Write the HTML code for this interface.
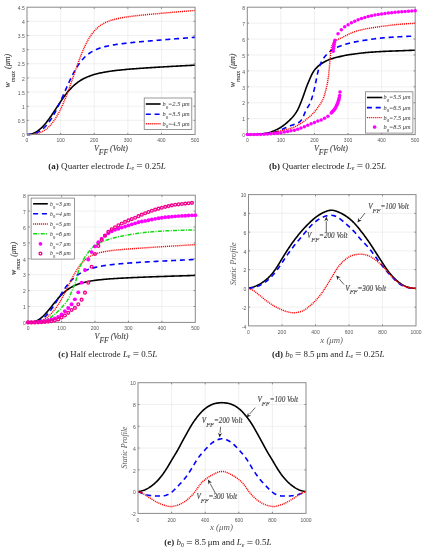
<!DOCTYPE html>
<html><head><meta charset="utf-8"><title>Figure</title>
<style>html,body{margin:0;padding:0;background:#fff}body{width:426px;height:550px;overflow:hidden}svg{display:block}</style>
</head><body>
<svg width="426" height="550" viewBox="0 0 426 550">
<style>
.tl text{font-family:"Liberation Sans",sans-serif;font-size:5px;fill:#555}
.lab{font-family:"Liberation Serif",serif;font-style:italic;fill:#3c3c3c;stroke:#3c3c3c;stroke-width:0.1}
.cap{font-family:"Liberation Serif",serif;fill:#1e1e1e}
.k{fill:none;stroke:#000;stroke-width:1.6}
.b{fill:none;stroke:#0000ff;stroke-width:1.6;stroke-dasharray:5 3.8}
.r{fill:none;stroke:#ff0000;stroke-width:1.45;stroke-dasharray:1.1 0.85}
.g{fill:none;stroke:#10dc10;stroke-width:1.5;stroke-dasharray:4 1.3 1 1.3}
.mf circle{fill:#ff00ff}
.mo circle{fill:none;stroke:#f2008e;stroke-width:1.35}
.leg{fill:#fff;stroke:#777;stroke-width:0.75}
.lg{fill:#4a4a4a;stroke:#4a4a4a;stroke-width:0.05}
.ann{fill:#4a4a4a;stroke:#4a4a4a;stroke-width:0.15}
.sp{fill:#5c5c5c;stroke:none}
</style>
<path d="M60.62 7.2V134.5M94.24 7.2V134.5M127.86 7.2V134.5M161.48 7.2V134.5M27 120.36H195.1M27 106.21H195.1M27 92.07H195.1M27 77.92H195.1M27 63.78H195.1M27 49.63H195.1M27 35.49H195.1M27 21.34H195.1" stroke="#eaeaea" stroke-width="0.7" fill="none"/>
<path d="M60.62 134.5v-1.6M60.62 7.2v1.6M94.24 134.5v-1.6M94.24 7.2v1.6M127.86 134.5v-1.6M127.86 7.2v1.6M161.48 134.5v-1.6M161.48 7.2v1.6M27 120.36h1.6M195.1 120.36h-1.6M27 106.21h1.6M195.1 106.21h-1.6M27 92.07h1.6M195.1 92.07h-1.6M27 77.92h1.6M195.1 77.92h-1.6M27 63.78h1.6M195.1 63.78h-1.6M27 49.63h1.6M195.1 49.63h-1.6M27 35.49h1.6M195.1 35.49h-1.6M27 21.34h1.6M195.1 21.34h-1.6" stroke="#555" stroke-width="0.7" fill="none"/>
<clipPath id="ca"><rect x="27" y="5.2" width="168.1" height="131.3"/></clipPath>
<g clip-path="url(#ca)">
<path d="M27.00 134.50L28.00 134.47L29.00 134.39L29.98 134.24L30.96 134.04L31.93 133.77L32.88 133.46L33.81 133.09L34.71 132.67L35.60 132.21L36.47 131.71L37.31 131.17L38.13 130.60L38.93 130.00L39.71 129.37L40.47 128.72L41.21 128.05L41.94 127.36L42.64 126.66L43.33 125.93L44.01 125.20L44.68 124.45L45.33 123.69L45.96 122.92L46.59 122.14L47.21 121.36L47.82 120.56L48.42 119.76L49.01 118.96L49.60 118.15L50.18 117.33L50.75 116.51L51.32 115.69L51.88 114.86L52.44 114.03L52.99 113.20L53.54 112.37L54.09 111.53L54.64 110.69L55.19 109.86L55.73 109.02L56.28 108.18L56.82 107.34L57.37 106.50L57.91 105.66L58.46 104.83L59.01 103.99L59.56 103.16L60.12 102.33L60.67 101.50L61.23 100.67L61.80 99.84L62.37 99.02L62.95 98.20L63.53 97.39L64.12 96.58L64.71 95.78L65.31 94.98L65.92 94.19L66.54 93.40L67.17 92.62L67.80 91.85L68.45 91.09L69.10 90.33L69.77 89.59L70.45 88.85L71.14 88.13L71.84 87.41L72.56 86.71L73.28 86.03L74.02 85.35L74.77 84.69L75.54 84.05L76.32 83.42L77.11 82.81L77.91 82.22L78.73 81.64L79.55 81.08L80.40 80.54L81.25 80.01L82.11 79.51L82.99 79.02L83.87 78.56L84.76 78.11L85.67 77.68L86.58 77.26L87.49 76.87L88.42 76.49L89.35 76.13L90.29 75.78L91.23 75.45L92.18 75.14L93.14 74.83L94.09 74.55L95.06 74.27L96.02 74.01L96.99 73.76L97.96 73.52L98.93 73.29L99.91 73.07L100.89 72.86L101.87 72.66L102.85 72.47L103.83 72.28L104.81 72.10L105.80 71.93L106.79 71.77L107.77 71.61L108.76 71.46L109.75 71.31L110.74 71.17L111.73 71.04L112.72 70.90L113.72 70.78L114.71 70.65L115.70 70.53L116.69 70.42L117.69 70.30L118.68 70.19L119.68 70.09L120.67 69.98L121.66 69.88L122.66 69.78L123.66 69.69L124.65 69.59L125.65 69.50L126.64 69.41L127.64 69.32L128.64 69.24L129.63 69.15L130.63 69.07L131.62 68.99L132.62 68.91L133.62 68.83L134.62 68.75L135.61 68.68L136.61 68.60L137.61 68.53L138.60 68.46L139.60 68.39L140.60 68.31L141.60 68.24L142.59 68.18L143.59 68.11L144.59 68.04L145.59 67.97L146.59 67.91L147.58 67.84L148.58 67.78L149.58 67.71L150.58 67.65L151.58 67.59L152.57 67.53L153.57 67.46L154.57 67.40L155.57 67.34L156.57 67.28L157.56 67.22L158.56 67.16L159.56 67.10L160.56 67.04L161.56 66.98L162.56 66.93L163.55 66.87L164.55 66.81L165.55 66.75L166.55 66.70L167.55 66.64L168.55 66.58L169.54 66.53L170.54 66.47L171.54 66.41L172.54 66.36L173.54 66.30L174.54 66.25L175.53 66.19L176.53 66.14L177.53 66.08L178.53 66.03L179.53 65.97L180.53 65.92L181.53 65.87L182.52 65.81L183.52 65.76L184.52 65.71L185.52 65.65L186.52 65.60L187.52 65.55L188.52 65.49L189.51 65.44L190.51 65.39L191.51 65.33L192.51 65.28L193.51 65.23L194.51 65.18L195.10 65.15" class="k"/>
<path d="M27.00 134.50L28.00 134.49L29.00 134.46L30.00 134.40L30.99 134.30L31.98 134.15L32.96 133.96L33.94 133.73L34.89 133.45L35.84 133.12L36.77 132.74L37.67 132.32L38.56 131.86L39.42 131.36L40.27 130.82L41.09 130.25L41.88 129.64L42.66 129.01L43.41 128.35L44.14 127.67L44.85 126.97L45.55 126.25L46.22 125.51L46.87 124.75L47.51 123.98L48.14 123.20L48.74 122.40L49.34 121.60L49.92 120.78L50.48 119.96L51.04 119.13L51.58 118.29L52.11 117.44L52.63 116.59L53.15 115.73L53.65 114.87L54.15 114.00L54.63 113.12L55.11 112.25L55.59 111.37L56.05 110.48L56.51 109.59L56.97 108.70L57.41 107.81L57.86 106.91L58.30 106.01L58.73 105.11L59.16 104.21L59.59 103.31L60.01 102.40L60.43 101.49L60.85 100.58L61.26 99.67L61.67 98.76L62.08 97.85L62.49 96.94L62.90 96.02L63.30 95.11L63.71 94.19L64.11 93.28L64.52 92.36L64.92 91.45L65.32 90.53L65.72 89.62L66.13 88.70L66.53 87.79L66.94 86.88L67.35 85.96L67.76 85.05L68.17 84.14L68.58 83.23L69.00 82.32L69.42 81.41L69.84 80.50L70.26 79.60L70.69 78.70L71.13 77.80L71.57 76.90L72.01 76.00L72.46 75.11L72.92 74.22L73.38 73.33L73.85 72.45L74.32 71.57L74.81 70.69L75.30 69.82L75.80 68.96L76.31 68.10L76.83 67.25L77.37 66.40L77.91 65.56L78.47 64.73L79.03 63.91L79.62 63.09L80.21 62.29L80.82 61.50L81.45 60.72L82.09 59.95L82.75 59.20L83.42 58.46L84.12 57.74L84.82 57.03L85.55 56.35L86.30 55.68L87.06 55.03L87.84 54.41L88.64 53.81L89.45 53.22L90.28 52.67L91.13 52.13L91.99 51.62L92.86 51.13L93.74 50.67L94.64 50.22L95.55 49.80L96.46 49.40L97.39 49.03L98.32 48.67L99.26 48.33L100.21 48.00L101.16 47.70L102.12 47.41L103.08 47.14L104.05 46.87L105.02 46.63L105.99 46.39L106.96 46.17L107.94 45.95L108.92 45.75L109.90 45.55L110.88 45.37L111.86 45.19L112.85 45.02L113.84 44.85L114.82 44.69L115.81 44.54L116.80 44.39L117.79 44.25L118.78 44.11L119.77 43.97L120.76 43.84L121.75 43.71L122.75 43.59L123.74 43.47L124.73 43.35L125.73 43.24L126.72 43.12L127.71 43.01L128.71 42.91L129.70 42.80L130.70 42.69L131.69 42.59L132.69 42.49L133.68 42.39L134.68 42.29L135.67 42.19L136.67 42.10L137.66 42.00L138.66 41.91L139.65 41.82L140.65 41.73L141.64 41.64L142.64 41.55L143.64 41.46L144.63 41.37L145.63 41.28L146.63 41.19L147.62 41.11L148.62 41.02L149.61 40.93L150.61 40.85L151.61 40.76L152.60 40.68L153.60 40.60L154.60 40.51L155.59 40.43L156.59 40.35L157.59 40.26L158.58 40.18L159.58 40.10L160.58 40.02L161.57 39.94L162.57 39.86L163.57 39.77L164.56 39.69L165.56 39.61L166.56 39.53L167.55 39.45L168.55 39.37L169.55 39.29L170.54 39.21L171.54 39.13L172.54 39.05L173.53 38.98L174.53 38.90L175.53 38.82L176.52 38.74L177.52 38.66L178.52 38.58L179.52 38.50L180.51 38.42L181.51 38.35L182.51 38.27L183.50 38.19L184.50 38.11L185.50 38.03L186.49 37.96L187.49 37.88L188.49 37.80L189.48 37.72L190.48 37.64L191.48 37.57L192.48 37.49L193.47 37.41L194.47 37.33L195.10 37.29" class="b"/>
<path d="M27.00 134.50L28.00 134.50L29.00 134.49L30.00 134.47L31.00 134.43L32.00 134.37L32.99 134.29L33.99 134.17L34.98 134.03L35.96 133.85L36.94 133.63L37.90 133.38L38.86 133.08L39.80 132.75L40.73 132.37L41.64 131.96L42.53 131.51L43.40 131.02L44.25 130.49L45.08 129.93L45.89 129.34L46.68 128.73L47.44 128.08L48.18 127.41L48.91 126.72L49.61 126.01L50.29 125.28L50.96 124.53L51.60 123.77L52.23 122.99L52.85 122.20L53.44 121.40L54.02 120.59L54.59 119.76L55.15 118.93L55.69 118.09L56.22 117.24L56.74 116.39L57.24 115.52L57.74 114.66L58.22 113.78L58.70 112.90L59.17 112.02L59.63 111.13L60.08 110.24L60.52 109.34L60.96 108.44L61.39 107.54L61.81 106.63L62.22 105.72L62.63 104.81L63.04 103.90L63.44 102.98L63.83 102.06L64.22 101.14L64.60 100.21L64.98 99.29L65.36 98.36L65.73 97.43L66.09 96.50L66.46 95.57L66.82 94.64L67.18 93.71L67.53 92.77L67.88 91.83L68.23 90.90L68.58 89.96L68.92 89.02L69.26 88.08L69.60 87.14L69.94 86.20L70.27 85.26L70.61 84.31L70.94 83.37L71.27 82.43L71.61 81.48L71.94 80.54L72.26 79.60L72.59 78.65L72.92 77.71L73.25 76.76L73.58 75.82L73.90 74.87L74.23 73.93L74.56 72.98L74.89 72.04L75.21 71.09L75.54 70.15L75.87 69.20L76.20 68.26L76.54 67.32L76.87 66.37L77.20 65.43L77.54 64.49L77.88 63.55L78.22 62.61L78.56 61.67L78.91 60.73L79.26 59.79L79.61 58.86L79.96 57.92L80.32 56.99L80.68 56.06L81.05 55.13L81.42 54.20L81.79 53.27L82.17 52.34L82.56 51.42L82.95 50.50L83.34 49.58L83.74 48.67L84.15 47.75L84.57 46.84L84.99 45.94L85.42 45.03L85.86 44.14L86.31 43.24L86.77 42.35L87.23 41.47L87.71 40.59L88.20 39.72L88.71 38.86L89.22 38.00L89.75 37.15L90.29 36.31L90.85 35.48L91.42 34.66L92.01 33.85L92.61 33.05L93.23 32.27L93.88 31.50L94.53 30.75L95.21 30.02L95.91 29.30L96.63 28.60L97.36 27.93L98.12 27.27L98.89 26.64L99.69 26.03L100.50 25.44L101.33 24.88L102.17 24.35L103.03 23.84L103.90 23.35L104.79 22.89L105.69 22.45L106.60 22.04L107.52 21.64L108.45 21.27L109.38 20.92L110.33 20.59L111.28 20.28L112.23 19.98L113.19 19.70L114.16 19.44L115.12 19.18L116.10 18.95L117.07 18.72L118.05 18.50L119.02 18.30L120.00 18.10L120.99 17.91L121.97 17.73L122.96 17.56L123.94 17.39L124.93 17.24L125.92 17.08L126.91 16.93L127.90 16.79L128.89 16.65L129.88 16.52L130.87 16.38L131.86 16.26L132.85 16.13L133.84 16.01L134.84 15.89L135.83 15.78L136.82 15.66L137.82 15.55L138.81 15.44L139.81 15.34L140.80 15.23L141.80 15.13L142.79 15.02L143.79 14.92L144.78 14.82L145.78 14.72L146.77 14.63L147.77 14.53L148.76 14.43L149.76 14.34L150.75 14.24L151.75 14.15L152.74 14.06L153.74 13.97L154.74 13.88L155.73 13.79L156.73 13.70L157.72 13.61L158.72 13.52L159.72 13.43L160.71 13.34L161.71 13.25L162.70 13.16L163.70 13.08L164.70 12.99L165.69 12.90L166.69 12.82L167.68 12.73L168.68 12.65L169.68 12.56L170.67 12.48L171.67 12.39L172.67 12.31L173.66 12.22L174.66 12.14L175.66 12.05L176.65 11.97L177.65 11.88L178.65 11.80L179.64 11.72L180.64 11.63L181.63 11.55L182.63 11.47L183.63 11.38L184.62 11.30L185.62 11.22L186.62 11.13L187.61 11.05L188.61 10.97L189.61 10.89L190.60 10.80L191.60 10.72L192.60 10.64L193.59 10.55L194.59 10.47L195.10 10.43" class="r"/>
</g>
<rect x="27" y="7.2" width="168.1" height="127.3" fill="none" stroke="#8a8a8a" stroke-width="1"/>
<g class="tl"><text x="27" y="142.1" text-anchor="middle">0</text><text x="60.62" y="142.1" text-anchor="middle">100</text><text x="94.24" y="142.1" text-anchor="middle">200</text><text x="127.86" y="142.1" text-anchor="middle">300</text><text x="161.48" y="142.1" text-anchor="middle">400</text><text x="195.1" y="142.1" text-anchor="middle">500</text><text x="24.8" y="137.2" text-anchor="end">0</text><text x="24.8" y="123.06" text-anchor="end">0.5</text><text x="24.8" y="108.91" text-anchor="end">1</text><text x="24.8" y="94.77" text-anchor="end">1.5</text><text x="24.8" y="80.62" text-anchor="end">2</text><text x="24.8" y="66.48" text-anchor="end">2.5</text><text x="24.8" y="52.33" text-anchor="end">3</text><text x="24.8" y="38.19" text-anchor="end">3.5</text><text x="24.8" y="24.04" text-anchor="end">4</text><text x="24.8" y="9.9" text-anchor="end">4.5</text></g>
<path d="M280.88 7.2V134.6M314.46 7.2V134.6M348.04 7.2V134.6M381.62 7.2V134.6M247.3 118.67H415.2M247.3 102.75H415.2M247.3 86.82H415.2M247.3 70.9H415.2M247.3 54.97H415.2M247.3 39.05H415.2M247.3 23.12H415.2" stroke="#eaeaea" stroke-width="0.7" fill="none"/>
<path d="M280.88 134.6v-1.6M280.88 7.2v1.6M314.46 134.6v-1.6M314.46 7.2v1.6M348.04 134.6v-1.6M348.04 7.2v1.6M381.62 134.6v-1.6M381.62 7.2v1.6M247.3 118.67h1.6M415.2 118.67h-1.6M247.3 102.75h1.6M415.2 102.75h-1.6M247.3 86.82h1.6M415.2 86.82h-1.6M247.3 70.9h1.6M415.2 70.9h-1.6M247.3 54.97h1.6M415.2 54.97h-1.6M247.3 39.05h1.6M415.2 39.05h-1.6M247.3 23.12h1.6M415.2 23.12h-1.6" stroke="#555" stroke-width="0.7" fill="none"/>
<clipPath id="cb"><rect x="247.3" y="5.2" width="167.9" height="131.4"/></clipPath>
<g clip-path="url(#cb)">
<path d="M247.30 134.60L248.30 134.59L249.30 134.57L250.30 134.55L251.30 134.52L252.30 134.49L253.30 134.46L254.30 134.42L255.30 134.37L256.29 134.32L257.29 134.27L258.29 134.20L259.29 134.12L260.28 134.03L261.28 133.93L262.27 133.82L263.26 133.69L264.25 133.55L265.24 133.39L266.22 133.21L267.20 133.02L268.17 132.79L269.14 132.54L270.09 132.26L271.04 131.95L271.98 131.61L272.91 131.25L273.84 130.87L274.76 130.48L275.67 130.06L276.57 129.64L277.46 129.19L278.35 128.73L279.22 128.25L280.08 127.74L280.93 127.21L281.76 126.65L282.57 126.08L283.38 125.49L284.18 124.89L284.97 124.28L285.75 123.65L286.52 123.01L287.28 122.36L288.02 121.70L288.76 121.02L289.49 120.34L290.20 119.64L290.90 118.92L291.59 118.20L292.26 117.46L292.92 116.71L293.56 115.94L294.18 115.16L294.79 114.37L295.37 113.56L295.93 112.73L296.46 111.89L296.97 111.03L297.46 110.16L297.92 109.28L298.37 108.38L298.79 107.47L299.20 106.56L299.59 105.64L299.98 104.72L300.36 103.80L300.74 102.87L301.11 101.94L301.47 101.01L301.83 100.08L302.18 99.14L302.53 98.21L302.87 97.27L303.21 96.33L303.55 95.38L303.88 94.44L304.21 93.50L304.54 92.55L304.87 91.61L305.19 90.66L305.51 89.72L305.84 88.77L306.18 87.83L306.53 86.89L306.89 85.96L307.25 85.03L307.63 84.10L308.01 83.18L308.40 82.26L308.79 81.34L309.18 80.41L309.57 79.50L309.97 78.58L310.37 77.66L310.78 76.75L311.19 75.84L311.61 74.93L312.05 74.04L312.52 73.16L313.01 72.29L313.54 71.45L314.12 70.64L314.72 69.85L315.36 69.08L316.02 68.34L316.71 67.61L317.41 66.90L318.14 66.22L318.89 65.57L319.67 64.94L320.46 64.35L321.28 63.78L322.12 63.23L322.97 62.71L323.83 62.21L324.70 61.72L325.59 61.25L326.48 60.80L327.38 60.38L328.30 59.98L329.23 59.61L330.16 59.27L331.11 58.95L332.06 58.65L333.02 58.37L333.98 58.10L334.95 57.84L335.91 57.58L336.88 57.34L337.85 57.09L338.82 56.85L339.79 56.61L340.77 56.37L341.74 56.14L342.71 55.91L343.69 55.70L344.67 55.50L345.65 55.31L346.63 55.13L347.62 54.96L348.60 54.80L349.59 54.65L350.58 54.51L351.57 54.36L352.56 54.22L353.55 54.09L354.54 53.95L355.53 53.81L356.52 53.68L357.52 53.55L358.51 53.42L359.50 53.30L360.49 53.18L361.49 53.07L362.48 52.96L363.48 52.86L364.47 52.76L365.47 52.66L366.46 52.57L367.46 52.49L368.45 52.40L369.45 52.32L370.45 52.24L371.45 52.17L372.44 52.09L373.44 52.02L374.44 51.95L375.44 51.88L376.43 51.81L377.43 51.75L378.43 51.69L379.43 51.63L380.43 51.58L381.42 51.52L382.42 51.47L383.42 51.42L384.42 51.37L385.42 51.33L386.42 51.29L387.42 51.24L388.42 51.20L389.42 51.17L390.42 51.13L391.41 51.09L392.41 51.05L393.41 51.02L394.41 50.98L395.41 50.95L396.41 50.91L397.41 50.87L398.41 50.83L399.41 50.80L400.41 50.76L401.41 50.72L402.41 50.68L403.41 50.64L404.41 50.60L405.41 50.57L406.40 50.53L407.40 50.49L408.40 50.45L409.40 50.41L410.40 50.38L411.39 50.34L412.37 50.30L413.33 50.27L414.27 50.23L415.20 50.20L415.20 50.20" class="k"/>
<path d="M247.30 134.60L248.30 134.59L249.30 134.58L250.30 134.56L251.30 134.53L252.30 134.50L253.30 134.46L254.30 134.42L255.30 134.38L256.29 134.32L257.29 134.27L258.29 134.21L259.29 134.14L260.29 134.08L261.28 134.01L262.28 133.94L263.28 133.86L264.27 133.77L265.27 133.68L266.26 133.57L267.26 133.46L268.25 133.32L269.24 133.17L270.22 133.01L271.21 132.83L272.19 132.64L273.17 132.44L274.14 132.22L275.11 131.99L276.08 131.74L277.05 131.48L278.00 131.18L278.94 130.85L279.86 130.48L280.77 130.08L281.68 129.65L282.57 129.21L283.47 128.77L284.38 128.34L285.28 127.92L286.19 127.51L287.11 127.10L288.02 126.71L288.95 126.33L289.88 125.96L290.82 125.62L291.76 125.28L292.70 124.95L293.65 124.62L294.59 124.28L295.52 123.93L296.45 123.57L297.37 123.17L298.26 122.74L299.10 122.24L299.88 121.65L300.57 120.97L301.19 120.21L301.74 119.39L302.24 118.53L302.71 117.65L303.15 116.75L303.57 115.85L303.96 114.93L304.35 114.01L304.73 113.08L305.12 112.17L305.54 111.26L305.98 110.36L306.46 109.48L306.95 108.62L307.46 107.76L307.98 106.90L308.49 106.04L308.99 105.18L309.47 104.30L309.92 103.41L310.33 102.51L310.71 101.58L311.06 100.65L311.39 99.70L311.70 98.76L312.00 97.80L312.29 96.84L312.58 95.89L312.85 94.92L313.11 93.96L313.37 92.99L313.62 92.03L313.86 91.05L314.10 90.08L314.33 89.11L314.55 88.13L314.76 87.16L314.97 86.18L315.17 85.20L315.37 84.22L315.56 83.24L315.76 82.26L315.95 81.28L316.15 80.30L316.34 79.32L316.54 78.33L316.73 77.35L316.94 76.38L317.14 75.40L317.35 74.42L317.57 73.44L317.79 72.47L318.02 71.49L318.26 70.52L318.51 69.56L318.79 68.60L319.09 67.64L319.41 66.70L319.75 65.76L320.11 64.83L320.50 63.91L320.91 62.99L321.34 62.10L321.81 61.21L322.30 60.34L322.82 59.49L323.36 58.65L323.93 57.83L324.52 57.03L325.14 56.24L325.78 55.48L326.44 54.73L327.12 54.00L327.82 53.29L328.55 52.60L329.29 51.94L330.06 51.30L330.85 50.69L331.66 50.11L332.49 49.56L333.35 49.04L334.22 48.56L335.11 48.12L336.02 47.71L336.94 47.32L337.87 46.95L338.81 46.60L339.74 46.25L340.68 45.90L341.62 45.55L342.56 45.21L343.50 44.87L344.45 44.55L345.40 44.24L346.35 43.94L347.31 43.67L348.28 43.40L349.24 43.16L350.22 42.93L351.19 42.71L352.17 42.50L353.15 42.29L354.13 42.10L355.11 41.91L356.09 41.72L357.08 41.55L358.06 41.37L359.05 41.21L360.04 41.04L361.02 40.88L362.01 40.72L363.00 40.56L363.98 40.41L364.97 40.25L365.96 40.10L366.95 39.94L367.94 39.79L368.93 39.64L369.91 39.49L370.90 39.34L371.89 39.20L372.88 39.06L373.87 38.92L374.86 38.79L375.86 38.66L376.85 38.53L377.84 38.41L378.83 38.30L379.83 38.19L380.82 38.09L381.82 37.99L382.81 37.90L383.81 37.81L384.81 37.72L385.80 37.64L386.80 37.57L387.80 37.49L388.79 37.42L389.79 37.35L390.79 37.28L391.79 37.22L392.79 37.15L393.78 37.09L394.78 37.03L395.78 36.97L396.78 36.91L397.78 36.86L398.78 36.80L399.77 36.75L400.77 36.69L401.77 36.64L402.77 36.58L403.77 36.53L404.77 36.48L405.77 36.43L406.76 36.38L407.76 36.34L408.76 36.29L409.76 36.25L410.76 36.20L411.76 36.16L412.75 36.12L413.73 36.08L414.71 36.04L415.20 36.02" class="b"/>
<path d="M247.30 134.60L248.30 134.59L249.30 134.58L250.30 134.57L251.30 134.55L252.30 134.53L253.30 134.50L254.30 134.46L255.30 134.43L256.30 134.39L257.30 134.34L258.29 134.29L259.29 134.24L260.29 134.19L261.29 134.13L262.29 134.07L263.29 134.01L264.28 133.94L265.28 133.85L266.27 133.75L267.27 133.63L268.26 133.49L269.24 133.33L270.23 133.16L271.21 132.97L272.19 132.78L273.17 132.58L274.15 132.37L275.13 132.15L276.10 131.93L277.08 131.72L278.05 131.50L279.03 131.28L280.01 131.07L280.98 130.85L281.96 130.62L282.93 130.39L283.90 130.16L284.87 129.91L285.84 129.66L286.80 129.40L287.77 129.13L288.73 128.86L289.69 128.58L290.65 128.30L291.60 128.00L292.55 127.69L293.50 127.36L294.43 126.99L295.34 126.59L296.23 126.14L297.10 125.66L297.97 125.15L298.82 124.64L299.68 124.12L300.53 123.59L301.37 123.06L302.21 122.50L303.02 121.93L303.83 121.34L304.62 120.73L305.41 120.11L306.19 119.48L306.96 118.85L307.73 118.22L308.50 117.57L309.26 116.93L310.02 116.27L310.77 115.61L311.51 114.93L312.23 114.25L312.95 113.55L313.65 112.84L314.33 112.10L314.98 111.35L315.61 110.57L316.22 109.78L316.82 108.98L317.40 108.16L317.97 107.34L318.54 106.52L319.10 105.69L319.66 104.87L320.22 104.04L320.77 103.20L321.30 102.35L321.81 101.49L322.28 100.61L322.73 99.72L323.14 98.81L323.52 97.89L323.87 96.95L324.19 96.00L324.49 95.05L324.78 94.09L325.05 93.13L325.31 92.16L325.56 91.20L325.81 90.23L326.05 89.26L326.28 88.28L326.51 87.31L326.73 86.33L326.94 85.36L327.14 84.38L327.33 83.40L327.52 82.41L327.69 81.43L327.86 80.44L328.02 79.46L328.17 78.47L328.31 77.48L328.45 76.49L328.57 75.50L328.68 74.50L328.79 73.51L328.89 72.51L328.99 71.52L329.08 70.52L329.17 69.53L329.26 68.53L329.35 67.53L329.44 66.54L329.52 65.54L329.61 64.55L329.71 63.55L329.80 62.55L329.89 61.56L329.98 60.56L330.07 59.57L330.16 58.57L330.25 57.58L330.35 56.58L330.44 55.58L330.54 54.59L330.64 53.59L330.74 52.60L330.84 51.60L330.95 50.61L331.07 49.62L331.23 48.63L331.42 47.65L331.65 46.68L331.95 45.73L332.32 44.81L332.76 43.92L333.29 43.08L333.91 42.31L334.61 41.60L335.38 40.98L336.21 40.42L337.07 39.92L337.96 39.46L338.85 39.02L339.75 38.58L340.65 38.14L341.55 37.71L342.46 37.29L343.36 36.85L344.26 36.41L345.15 35.96L346.04 35.51L346.93 35.06L347.83 34.61L348.73 34.18L349.63 33.75L350.54 33.34L351.46 32.94L352.38 32.55L353.31 32.18L354.24 31.82L355.18 31.49L356.13 31.17L357.08 30.87L358.05 30.59L359.01 30.34L359.98 30.10L360.96 29.88L361.94 29.67L362.92 29.47L363.90 29.28L364.88 29.09L365.86 28.90L366.85 28.72L367.83 28.55L368.82 28.37L369.80 28.21L370.79 28.04L371.77 27.88L372.76 27.72L373.75 27.56L374.74 27.40L375.72 27.25L376.71 27.10L377.70 26.96L378.69 26.81L379.68 26.67L380.67 26.53L381.66 26.40L382.65 26.26L383.65 26.13L384.64 25.99L385.63 25.86L386.62 25.73L387.61 25.60L388.60 25.47L389.59 25.35L390.59 25.23L391.58 25.11L392.57 24.99L393.57 24.88L394.56 24.77L395.56 24.67L396.55 24.57L397.55 24.48L398.54 24.39L399.54 24.30L400.54 24.22L401.53 24.14L402.53 24.06L403.53 23.99L404.52 23.91L405.52 23.84L406.52 23.77L407.52 23.70L408.51 23.64L409.51 23.57L410.51 23.52L411.51 23.46L412.51 23.41L413.50 23.36L414.48 23.32L415.20 23.28" class="r"/>
</g>
<rect x="247.3" y="7.2" width="167.9" height="127.4" fill="none" stroke="#8a8a8a" stroke-width="1"/>
<g class="mf"><circle cx="247.30" cy="134.60" r="1.75"/><circle cx="250.66" cy="134.58" r="1.75"/><circle cx="254.02" cy="134.54" r="1.75"/><circle cx="257.37" cy="134.47" r="1.75"/><circle cx="260.73" cy="134.38" r="1.75"/><circle cx="264.09" cy="134.28" r="1.75"/><circle cx="267.45" cy="134.12" r="1.75"/><circle cx="270.81" cy="133.86" r="1.75"/><circle cx="274.16" cy="133.52" r="1.75"/><circle cx="277.52" cy="133.14" r="1.75"/><circle cx="280.88" cy="132.71" r="1.75"/><circle cx="284.24" cy="132.11" r="1.75"/><circle cx="287.60" cy="131.44" r="1.75"/><circle cx="290.95" cy="130.78" r="1.75"/><circle cx="294.31" cy="130.14" r="1.75"/><circle cx="297.67" cy="129.19" r="1.75"/><circle cx="301.03" cy="128.07" r="1.75"/><circle cx="304.39" cy="126.64" r="1.75"/><circle cx="307.74" cy="125.19" r="1.75"/><circle cx="311.10" cy="123.75" r="1.75"/><circle cx="314.46" cy="122.44" r="1.75"/><circle cx="317.82" cy="121.04" r="1.75"/><circle cx="321.18" cy="119.89" r="1.75"/><circle cx="324.53" cy="118.23" r="1.75"/><circle cx="327.89" cy="116.30" r="1.75"/><circle cx="331.25" cy="112.93" r="1.75"/><circle cx="331.92" cy="112.20" r="1.75"/><circle cx="332.59" cy="111.49" r="1.75"/><circle cx="333.26" cy="110.78" r="1.75"/><circle cx="333.94" cy="110.00" r="1.75"/><circle cx="334.61" cy="109.13" r="1.75"/><circle cx="335.28" cy="108.12" r="1.75"/><circle cx="335.95" cy="106.96" r="1.75"/><circle cx="336.62" cy="105.62" r="1.75"/><circle cx="337.13" cy="104.47" r="1.75"/><circle cx="337.63" cy="103.20" r="1.75"/><circle cx="338.13" cy="101.82" r="1.75"/><circle cx="338.64" cy="100.25" r="1.75"/><circle cx="338.97" cy="98.98" r="1.75"/><circle cx="339.31" cy="97.44" r="1.75"/><circle cx="339.64" cy="95.52" r="1.75"/><circle cx="339.98" cy="92.08" r="1.75"/></g>
<g class="mf"><circle cx="333.26" cy="51.31" r="1.75"/><circle cx="333.53" cy="48.60" r="1.75"/><circle cx="333.80" cy="46.22" r="1.75"/><circle cx="334.10" cy="44.15" r="1.75"/><circle cx="334.44" cy="42.23" r="1.75"/><circle cx="334.91" cy="40.16" r="1.75"/><circle cx="337.97" cy="33.68" r="1.75"/><circle cx="341.32" cy="29.72" r="1.75"/><circle cx="344.68" cy="26.79" r="1.75"/><circle cx="348.04" cy="24.71" r="1.75"/><circle cx="351.40" cy="22.85" r="1.75"/><circle cx="354.76" cy="21.33" r="1.75"/><circle cx="358.11" cy="19.86" r="1.75"/><circle cx="361.47" cy="18.56" r="1.75"/><circle cx="364.83" cy="17.42" r="1.75"/><circle cx="368.19" cy="16.44" r="1.75"/><circle cx="371.55" cy="15.68" r="1.75"/><circle cx="374.90" cy="15.05" r="1.75"/><circle cx="378.26" cy="14.51" r="1.75"/><circle cx="381.62" cy="14.01" r="1.75"/><circle cx="384.98" cy="13.54" r="1.75"/><circle cx="388.34" cy="13.10" r="1.75"/><circle cx="391.69" cy="12.69" r="1.75"/><circle cx="395.05" cy="12.31" r="1.75"/><circle cx="398.41" cy="11.98" r="1.75"/><circle cx="401.77" cy="11.67" r="1.75"/><circle cx="405.13" cy="11.39" r="1.75"/><circle cx="408.48" cy="11.13" r="1.75"/><circle cx="411.84" cy="10.90" r="1.75"/><circle cx="415.20" cy="10.70" r="1.75"/></g>
<g class="tl"><text x="247.3" y="142.1" text-anchor="middle">0</text><text x="280.88" y="142.1" text-anchor="middle">100</text><text x="314.46" y="142.1" text-anchor="middle">200</text><text x="348.04" y="142.1" text-anchor="middle">300</text><text x="381.62" y="142.1" text-anchor="middle">400</text><text x="415.2" y="142.1" text-anchor="middle">500</text><text x="245.1" y="137.3" text-anchor="end">0</text><text x="245.1" y="121.38" text-anchor="end">1</text><text x="245.1" y="105.45" text-anchor="end">2</text><text x="245.1" y="89.52" text-anchor="end">3</text><text x="245.1" y="73.6" text-anchor="end">4</text><text x="245.1" y="57.67" text-anchor="end">5</text><text x="245.1" y="41.75" text-anchor="end">6</text><text x="245.1" y="25.82" text-anchor="end">7</text><text x="245.1" y="9.9" text-anchor="end">8</text></g>
<path d="M61.54 195.2V322.4M94.98 195.2V322.4M128.42 195.2V322.4M161.86 195.2V322.4M28.1 306.5H195.3M28.1 290.6H195.3M28.1 274.7H195.3M28.1 258.8H195.3M28.1 242.9H195.3M28.1 227H195.3M28.1 211.1H195.3" stroke="#eaeaea" stroke-width="0.7" fill="none"/>
<path d="M61.54 322.4v-1.6M61.54 195.2v1.6M94.98 322.4v-1.6M94.98 195.2v1.6M128.42 322.4v-1.6M128.42 195.2v1.6M161.86 322.4v-1.6M161.86 195.2v1.6M28.1 306.5h1.6M195.3 306.5h-1.6M28.1 290.6h1.6M195.3 290.6h-1.6M28.1 274.7h1.6M195.3 274.7h-1.6M28.1 258.8h1.6M195.3 258.8h-1.6M28.1 242.9h1.6M195.3 242.9h-1.6M28.1 227h1.6M195.3 227h-1.6M28.1 211.1h1.6M195.3 211.1h-1.6" stroke="#555" stroke-width="0.7" fill="none"/>
<clipPath id="cc"><rect x="28.1" y="193.2" width="167.2" height="131.2"/></clipPath>
<g clip-path="url(#cc)">
<path d="M28.10 322.40L29.10 322.39L30.10 322.35L31.09 322.26L32.09 322.12L33.07 321.93L34.04 321.68L34.99 321.38L35.92 321.03L36.84 320.62L37.73 320.16L38.59 319.67L39.44 319.13L40.25 318.55L41.05 317.95L41.82 317.31L42.58 316.65L43.31 315.98L44.03 315.28L44.73 314.57L45.41 313.84L46.09 313.10L46.75 312.35L47.40 311.59L48.05 310.83L48.69 310.06L49.32 309.28L49.95 308.50L50.57 307.72L51.19 306.94L51.81 306.15L52.43 305.37L53.04 304.58L53.66 303.80L54.29 303.01L54.91 302.23L55.54 301.46L56.18 300.68L56.82 299.92L57.46 299.15L58.12 298.40L58.78 297.65L59.45 296.91L60.14 296.18L60.83 295.46L61.53 294.75L62.25 294.05L62.98 293.36L63.72 292.69L64.47 292.04L65.24 291.39L66.02 290.77L66.82 290.17L67.63 289.58L68.45 289.01L69.29 288.46L70.14 287.93L71.00 287.43L71.87 286.94L72.76 286.48L73.65 286.03L74.56 285.61L75.48 285.21L76.40 284.82L77.33 284.46L78.27 284.11L79.21 283.79L80.17 283.48L81.12 283.19L82.08 282.91L83.05 282.65L84.02 282.40L84.99 282.16L85.96 281.94L86.94 281.73L87.92 281.53L88.90 281.34L89.89 281.17L90.87 281.00L91.86 280.83L92.85 280.68L93.84 280.53L94.83 280.40L95.82 280.26L96.81 280.14L97.80 280.02L98.80 279.90L99.79 279.79L100.78 279.68L101.78 279.58L102.77 279.48L103.77 279.39L104.77 279.30L105.76 279.21L106.76 279.13L107.76 279.05L108.75 278.97L109.75 278.89L110.75 278.82L111.74 278.75L112.74 278.68L113.74 278.61L114.74 278.55L115.74 278.49L116.73 278.43L117.73 278.37L118.73 278.31L119.73 278.25L120.73 278.19L121.73 278.14L122.72 278.09L123.72 278.03L124.72 277.98L125.72 277.93L126.72 277.88L127.72 277.83L128.72 277.79L129.72 277.74L130.71 277.69L131.71 277.65L132.71 277.60L133.71 277.56L134.71 277.52L135.71 277.47L136.71 277.43L137.71 277.39L138.71 277.35L139.71 277.31L140.70 277.27L141.70 277.23L142.70 277.19L143.70 277.15L144.70 277.11L145.70 277.07L146.70 277.03L147.70 277.00L148.70 276.96L149.70 276.92L150.70 276.88L151.70 276.85L152.70 276.81L153.70 276.78L154.69 276.74L155.69 276.70L156.69 276.67L157.69 276.63L158.69 276.60L159.69 276.56L160.69 276.53L161.69 276.50L162.69 276.46L163.69 276.43L164.69 276.39L165.69 276.36L166.69 276.33L167.69 276.29L168.69 276.26L169.69 276.23L170.69 276.19L171.69 276.16L172.68 276.13L173.68 276.09L174.68 276.06L175.68 276.03L176.68 276.00L177.68 275.96L178.68 275.93L179.68 275.90L180.68 275.87L181.68 275.84L182.68 275.80L183.68 275.77L184.68 275.74L185.68 275.71L186.68 275.68L187.68 275.64L188.68 275.61L189.68 275.58L190.68 275.55L191.67 275.52L192.67 275.49L193.67 275.46L194.67 275.42L195.30 275.41" class="k"/>
<path d="M28.10 322.40L29.10 322.40L30.10 322.38L31.10 322.35L32.10 322.30L33.09 322.21L34.09 322.08L35.07 321.91L36.05 321.69L37.01 321.43L37.96 321.11L38.89 320.74L39.80 320.33L40.68 319.86L41.54 319.35L42.38 318.80L43.19 318.22L43.97 317.60L44.73 316.95L45.47 316.27L46.18 315.57L46.88 314.85L47.55 314.11L48.21 313.35L48.85 312.59L49.47 311.81L50.08 311.01L50.68 310.21L51.27 309.40L51.85 308.59L52.41 307.76L52.97 306.94L53.53 306.10L54.07 305.27L54.62 304.43L55.15 303.58L55.69 302.74L56.22 301.89L56.75 301.04L57.27 300.19L57.80 299.34L58.33 298.49L58.85 297.64L59.38 296.79L59.91 295.94L60.44 295.10L60.98 294.25L61.52 293.41L62.06 292.57L62.61 291.73L63.16 290.90L63.72 290.07L64.29 289.25L64.86 288.43L65.44 287.61L66.03 286.81L66.63 286.01L67.24 285.21L67.86 284.43L68.49 283.65L69.14 282.89L69.79 282.13L70.46 281.39L71.14 280.66L71.84 279.94L72.55 279.23L73.27 278.54L74.01 277.87L74.76 277.21L75.53 276.57L76.31 275.95L77.11 275.35L77.92 274.76L78.75 274.20L79.59 273.66L80.44 273.13L81.31 272.63L82.18 272.15L83.07 271.69L83.97 271.25L84.88 270.83L85.79 270.43L86.72 270.05L87.65 269.69L88.59 269.35L89.53 269.02L90.48 268.71L91.44 268.41L92.40 268.13L93.36 267.86L94.33 267.61L95.30 267.37L96.27 267.14L97.25 266.92L98.23 266.71L99.21 266.51L100.19 266.32L101.17 266.14L102.16 265.97L103.14 265.80L104.13 265.65L105.12 265.50L106.11 265.35L107.10 265.21L108.09 265.08L109.08 264.95L110.07 264.82L111.07 264.70L112.06 264.59L113.05 264.48L114.05 264.37L115.04 264.26L116.04 264.16L117.03 264.06L118.03 263.97L119.02 263.87L120.02 263.78L121.02 263.69L122.01 263.61L123.01 263.52L124.01 263.44L125.00 263.36L126.00 263.28L127.00 263.21L127.99 263.13L128.99 263.06L129.99 262.99L130.99 262.91L131.98 262.84L132.98 262.78L133.98 262.71L134.98 262.64L135.97 262.58L136.97 262.51L137.97 262.45L138.97 262.38L139.97 262.32L140.96 262.26L141.96 262.20L142.96 262.14L143.96 262.08L144.96 262.02L145.96 261.96L146.95 261.91L147.95 261.85L148.95 261.79L149.95 261.74L150.95 261.68L151.95 261.63L152.94 261.57L153.94 261.52L154.94 261.46L155.94 261.41L156.94 261.35L157.94 261.30L158.94 261.25L159.93 261.20L160.93 261.14L161.93 261.09L162.93 261.04L163.93 260.99L164.93 260.94L165.93 260.89L166.93 260.84L167.92 260.79L168.92 260.74L169.92 260.69L170.92 260.64L171.92 260.59L172.92 260.54L173.92 260.49L174.92 260.44L175.91 260.39L176.91 260.34L177.91 260.29L178.91 260.24L179.91 260.19L180.91 260.14L181.91 260.10L182.91 260.05L183.90 260.00L184.90 259.95L185.90 259.90L186.90 259.85L187.90 259.81L188.90 259.76L189.90 259.71L190.90 259.66L191.90 259.62L192.89 259.57L193.89 259.52L194.89 259.48L195.30 259.46" class="b"/>
<path d="M28.10 322.40L29.10 322.40L30.10 322.39L31.10 322.37L32.10 322.32L33.10 322.26L34.09 322.18L35.09 322.06L36.08 321.91L37.06 321.73L38.03 321.51L39.00 321.26L39.96 320.97L40.90 320.64L41.83 320.27L42.75 319.86L43.64 319.42L44.52 318.94L45.38 318.43L46.22 317.88L47.03 317.31L47.83 316.71L48.61 316.08L49.37 315.42L50.11 314.75L50.82 314.05L51.52 313.34L52.21 312.61L52.87 311.86L53.52 311.10L54.15 310.33L54.77 309.54L55.38 308.75L55.97 307.94L56.55 307.12L57.11 306.30L57.67 305.47L58.21 304.63L58.75 303.78L59.27 302.93L59.79 302.08L60.30 301.22L60.80 300.35L61.29 299.48L61.78 298.61L62.26 297.73L62.74 296.85L63.21 295.97L63.67 295.08L64.13 294.20L64.59 293.31L65.04 292.42L65.49 291.52L65.94 290.63L66.39 289.73L66.83 288.84L67.28 287.94L67.72 287.04L68.16 286.15L68.60 285.25L69.04 284.35L69.49 283.46L69.93 282.56L70.38 281.67L70.83 280.77L71.28 279.88L71.73 278.99L72.19 278.10L72.65 277.22L73.12 276.33L73.60 275.45L74.08 274.57L74.56 273.70L75.06 272.83L75.56 271.97L76.07 271.11L76.59 270.25L77.13 269.41L77.67 268.57L78.23 267.74L78.80 266.92L79.38 266.10L79.98 265.31L80.60 264.52L81.23 263.75L81.89 262.99L82.56 262.25L83.25 261.53L83.96 260.82L84.70 260.14L85.45 259.49L86.23 258.86L87.02 258.25L87.84 257.67L88.67 257.12L89.53 256.60L90.40 256.11L91.28 255.65L92.18 255.21L93.10 254.81L94.02 254.43L94.96 254.07L95.90 253.74L96.85 253.43L97.81 253.15L98.77 252.88L99.74 252.63L100.71 252.39L101.69 252.18L102.67 251.97L103.65 251.78L104.63 251.60L105.62 251.43L106.61 251.27L107.60 251.12L108.59 250.98L109.58 250.84L110.57 250.71L111.56 250.59L112.55 250.47L113.55 250.35L114.54 250.24L115.53 250.14L116.53 250.04L117.52 249.94L118.52 249.84L119.52 249.75L120.51 249.66L121.51 249.57L122.50 249.48L123.50 249.40L124.50 249.31L125.49 249.23L126.49 249.15L127.49 249.07L128.48 249.00L129.48 248.92L130.48 248.85L131.48 248.77L132.47 248.70L133.47 248.62L134.47 248.55L135.47 248.48L136.46 248.41L137.46 248.34L138.46 248.27L139.46 248.20L140.45 248.13L141.45 248.06L142.45 248.00L143.45 247.93L144.44 247.86L145.44 247.79L146.44 247.73L147.44 247.66L148.43 247.59L149.43 247.53L150.43 247.46L151.43 247.40L152.43 247.33L153.42 247.27L154.42 247.20L155.42 247.14L156.42 247.07L157.42 247.01L158.41 246.94L159.41 246.88L160.41 246.81L161.41 246.75L162.41 246.69L163.40 246.62L164.40 246.56L165.40 246.49L166.40 246.43L167.39 246.37L168.39 246.30L169.39 246.24L170.39 246.17L171.39 246.11L172.38 246.05L173.38 245.98L174.38 245.92L175.38 245.86L176.38 245.79L177.37 245.73L178.37 245.67L179.37 245.60L180.37 245.54L181.37 245.48L182.36 245.42L183.36 245.35L184.36 245.29L185.36 245.23L186.36 245.16L187.35 245.10L188.35 245.04L189.35 244.97L190.35 244.91L191.35 244.85L192.34 244.79L193.34 244.72L194.34 244.66L195.30 244.60L195.30 244.60" class="r"/>
<path d="M28.10 322.40L29.10 322.38L30.10 322.36L31.10 322.33L32.10 322.29L33.10 322.25L34.10 322.20L35.09 322.13L36.09 322.06L37.09 321.98L38.08 321.88L39.07 321.76L40.06 321.61L41.04 321.42L42.01 321.21L42.98 320.97L43.94 320.69L44.88 320.37L45.81 320.02L46.72 319.62L47.62 319.17L48.49 318.70L49.35 318.19L50.20 317.66L51.03 317.11L51.85 316.53L52.65 315.94L53.44 315.33L54.22 314.70L54.98 314.06L55.73 313.40L56.47 312.73L57.21 312.05L57.93 311.36L58.65 310.66L59.35 309.95L60.05 309.24L60.74 308.51L61.42 307.78L62.09 307.04L62.75 306.29L63.41 305.53L64.05 304.77L64.70 304.00L65.33 303.23L65.94 302.44L66.53 301.64L67.09 300.81L67.63 299.97L68.13 299.11L68.62 298.24L69.08 297.35L69.53 296.46L69.95 295.55L70.36 294.64L70.76 293.73L71.15 292.80L71.52 291.88L71.89 290.95L72.26 290.02L72.63 289.09L73.01 288.16L73.39 287.24L73.77 286.32L74.15 285.39L74.52 284.46L74.88 283.53L75.23 282.59L75.55 281.65L75.86 280.70L76.15 279.74L76.42 278.78L76.68 277.81L76.94 276.85L77.19 275.88L77.44 274.91L77.70 273.95L77.96 272.98L78.23 272.02L78.51 271.06L78.82 270.11L79.13 269.16L79.47 268.22L79.83 267.29L80.20 266.36L80.58 265.43L80.98 264.52L81.39 263.61L81.82 262.70L82.27 261.81L82.73 260.92L83.20 260.04L83.69 259.17L84.20 258.31L84.72 257.46L85.26 256.62L85.81 255.79L86.38 254.97L86.97 254.16L87.57 253.36L88.18 252.57L88.81 251.79L89.44 251.01L90.08 250.25L90.73 249.48L91.39 248.73L92.06 247.99L92.75 247.27L93.46 246.57L94.20 245.90L94.96 245.27L95.77 244.69L96.60 244.15L97.47 243.66L98.36 243.22L99.27 242.82L100.19 242.44L101.13 242.08L102.06 241.73L103.00 241.39L103.94 241.05L104.88 240.71L105.83 240.37L106.77 240.04L107.71 239.72L108.66 239.40L109.61 239.10L110.57 238.80L111.53 238.52L112.49 238.25L113.46 237.99L114.42 237.74L115.39 237.49L116.37 237.26L117.34 237.03L118.31 236.80L119.29 236.59L120.27 236.38L121.25 236.18L122.23 235.98L123.21 235.79L124.19 235.61L125.18 235.43L126.16 235.25L127.14 235.07L128.13 234.90L129.11 234.73L130.10 234.56L131.09 234.40L132.07 234.24L133.06 234.08L134.05 233.92L135.04 233.77L136.03 233.62L137.02 233.48L138.01 233.34L139.00 233.20L139.99 233.07L140.98 232.94L141.97 232.82L142.96 232.70L143.96 232.59L144.95 232.48L145.95 232.37L146.94 232.27L147.94 232.18L148.93 232.09L149.93 232.00L150.92 231.91L151.92 231.83L152.92 231.75L153.91 231.67L154.91 231.59L155.91 231.51L156.91 231.44L157.90 231.37L158.90 231.30L159.90 231.23L160.90 231.16L161.89 231.10L162.89 231.04L163.89 230.98L164.89 230.93L165.89 230.87L166.89 230.82L167.89 230.77L168.88 230.72L169.88 230.67L170.88 230.63L171.88 230.59L172.88 230.54L173.88 230.50L174.88 230.46L175.88 230.42L176.88 230.38L177.88 230.34L178.88 230.30L179.87 230.27L180.87 230.23L181.87 230.19L182.87 230.16L183.87 230.13L184.87 230.10L185.87 230.07L186.87 230.04L187.87 230.01L188.87 229.99L189.87 229.96L190.87 229.94L191.86 229.92L192.85 229.90L193.84 229.89L194.81 229.87L195.30 229.86" class="g"/>
</g>
<rect x="28.1" y="195.2" width="167.2" height="127.2" fill="none" stroke="#8a8a8a" stroke-width="1"/>
<g class="mf"><circle cx="28.10" cy="322.40" r="1.95"/><circle cx="31.44" cy="322.40" r="1.95"/><circle cx="34.79" cy="322.24" r="1.95"/><circle cx="38.13" cy="321.92" r="1.95"/><circle cx="41.48" cy="321.60" r="1.95"/><circle cx="44.82" cy="321.13" r="1.95"/><circle cx="48.16" cy="320.17" r="1.95"/><circle cx="51.51" cy="319.38" r="1.95"/><circle cx="54.85" cy="318.42" r="1.95"/><circle cx="58.20" cy="316.83" r="1.95"/><circle cx="61.54" cy="314.45" r="1.95"/><circle cx="64.88" cy="311.27" r="1.95"/><circle cx="68.23" cy="307.93" r="1.95"/><circle cx="71.57" cy="304.27" r="1.95"/><circle cx="74.92" cy="299.34" r="1.95"/><circle cx="78.26" cy="292.35" r="1.95"/><circle cx="81.60" cy="282.65" r="1.95"/><circle cx="84.95" cy="269.93" r="1.95"/><circle cx="88.29" cy="259.44" r="1.95"/><circle cx="91.64" cy="252.12" r="1.95"/><circle cx="94.98" cy="246.40" r="1.95"/><circle cx="98.32" cy="242.26" r="1.95"/><circle cx="101.67" cy="238.77" r="1.95"/><circle cx="105.01" cy="235.49" r="1.95"/><circle cx="108.36" cy="233.36" r="1.95"/><circle cx="111.70" cy="231.29" r="1.95"/><circle cx="115.04" cy="229.86" r="1.95"/><circle cx="118.39" cy="228.76" r="1.95"/><circle cx="121.73" cy="227.58" r="1.95"/><circle cx="125.08" cy="226.46" r="1.95"/><circle cx="128.42" cy="225.41" r="1.95"/><circle cx="131.76" cy="224.37" r="1.95"/><circle cx="135.11" cy="223.34" r="1.95"/><circle cx="138.45" cy="222.32" r="1.95"/><circle cx="141.80" cy="221.52" r="1.95"/><circle cx="145.14" cy="220.91" r="1.95"/><circle cx="148.48" cy="220.30" r="1.95"/><circle cx="151.83" cy="219.54" r="1.95"/><circle cx="155.17" cy="218.86" r="1.95"/><circle cx="158.52" cy="218.28" r="1.95"/><circle cx="161.86" cy="217.77" r="1.95"/><circle cx="165.20" cy="217.32" r="1.95"/><circle cx="168.55" cy="216.95" r="1.95"/><circle cx="171.89" cy="216.63" r="1.95"/><circle cx="175.24" cy="216.35" r="1.95"/><circle cx="178.58" cy="216.11" r="1.95"/><circle cx="181.92" cy="215.89" r="1.95"/><circle cx="185.27" cy="215.70" r="1.95"/><circle cx="188.61" cy="215.52" r="1.95"/><circle cx="191.96" cy="215.36" r="1.95"/><circle cx="195.30" cy="215.23" r="1.95"/></g>
<g class="mo"><circle cx="28.10" cy="322.40" r="1.4"/><circle cx="31.44" cy="322.40" r="1.4"/><circle cx="34.79" cy="322.40" r="1.4"/><circle cx="38.13" cy="322.32" r="1.4"/><circle cx="41.48" cy="322.24" r="1.4"/><circle cx="44.82" cy="321.92" r="1.4"/><circle cx="48.16" cy="321.60" r="1.4"/><circle cx="51.51" cy="321.13" r="1.4"/><circle cx="54.85" cy="320.33" r="1.4"/><circle cx="58.20" cy="319.38" r="1.4"/><circle cx="61.54" cy="317.47" r="1.4"/><circle cx="64.88" cy="315.40" r="1.4"/><circle cx="68.23" cy="312.86" r="1.4"/><circle cx="71.57" cy="310.00" r="1.4"/><circle cx="74.92" cy="307.93" r="1.4"/><circle cx="78.26" cy="304.27" r="1.4"/><circle cx="81.60" cy="299.66" r="1.4"/><circle cx="84.95" cy="292.67" r="1.4"/><circle cx="88.29" cy="282.65" r="1.4"/><circle cx="91.64" cy="266.75" r="1.4"/><circle cx="94.98" cy="254.03" r="1.4"/><circle cx="98.32" cy="245.92" r="1.4"/><circle cx="101.67" cy="240.04" r="1.4"/><circle cx="105.01" cy="235.74" r="1.4"/><circle cx="108.36" cy="231.87" r="1.4"/><circle cx="111.70" cy="229.30" r="1.4"/><circle cx="115.04" cy="227.20" r="1.4"/><circle cx="118.39" cy="225.26" r="1.4"/><circle cx="121.73" cy="223.52" r="1.4"/><circle cx="125.08" cy="221.91" r="1.4"/><circle cx="128.42" cy="220.43" r="1.4"/><circle cx="131.76" cy="219.06" r="1.4"/><circle cx="135.11" cy="217.75" r="1.4"/><circle cx="138.45" cy="216.18" r="1.4"/><circle cx="141.80" cy="214.66" r="1.4"/><circle cx="145.14" cy="213.27" r="1.4"/><circle cx="148.48" cy="211.97" r="1.4"/><circle cx="151.83" cy="210.75" r="1.4"/><circle cx="155.17" cy="209.64" r="1.4"/><circle cx="158.52" cy="208.64" r="1.4"/><circle cx="161.86" cy="207.72" r="1.4"/><circle cx="165.20" cy="206.87" r="1.4"/><circle cx="168.55" cy="206.10" r="1.4"/><circle cx="171.89" cy="205.35" r="1.4"/><circle cx="175.24" cy="204.74" r="1.4"/><circle cx="178.58" cy="204.33" r="1.4"/><circle cx="181.92" cy="203.98" r="1.4"/><circle cx="185.27" cy="203.61" r="1.4"/><circle cx="188.61" cy="203.23" r="1.4"/><circle cx="191.96" cy="202.87" r="1.4"/></g>
<g class="tl"><text x="28.1" y="330" text-anchor="middle">0</text><text x="61.54" y="330" text-anchor="middle">100</text><text x="94.98" y="330" text-anchor="middle">200</text><text x="128.42" y="330" text-anchor="middle">300</text><text x="161.86" y="330" text-anchor="middle">400</text><text x="195.3" y="330" text-anchor="middle">500</text><text x="25.9" y="325.1" text-anchor="end">0</text><text x="25.9" y="309.2" text-anchor="end">1</text><text x="25.9" y="293.3" text-anchor="end">2</text><text x="25.9" y="277.4" text-anchor="end">3</text><text x="25.9" y="261.5" text-anchor="end">4</text><text x="25.9" y="245.6" text-anchor="end">5</text><text x="25.9" y="229.7" text-anchor="end">6</text><text x="25.9" y="213.8" text-anchor="end">7</text><text x="25.9" y="197.9" text-anchor="end">8</text></g>
<path d="M282 194.6V325.9M315.5 194.6V325.9M349 194.6V325.9M382.5 194.6V325.9M248.5 307.14H416M248.5 288.39H416M248.5 269.63H416M248.5 250.87H416M248.5 232.11H416M248.5 213.36H416" stroke="#eaeaea" stroke-width="0.7" fill="none"/>
<path d="M282 325.9v-1.6M282 194.6v1.6M315.5 325.9v-1.6M315.5 194.6v1.6M349 325.9v-1.6M349 194.6v1.6M382.5 325.9v-1.6M382.5 194.6v1.6M248.5 307.14h1.6M416 307.14h-1.6M248.5 288.39h1.6M416 288.39h-1.6M248.5 269.63h1.6M416 269.63h-1.6M248.5 250.87h1.6M416 250.87h-1.6M248.5 232.11h1.6M416 232.11h-1.6M248.5 213.36h1.6M416 213.36h-1.6" stroke="#555" stroke-width="0.7" fill="none"/>
<clipPath id="cd"><rect x="248.5" y="192.6" width="167.5" height="135.3"/></clipPath>
<g clip-path="url(#cd)">
<path d="M248.50 288.39L249.47 288.13L250.43 287.87L251.39 287.59L252.34 287.30L253.29 286.98L254.23 286.64L255.16 286.28L256.08 285.89L256.99 285.48L257.89 285.05L258.77 284.59L259.65 284.11L260.52 283.61L261.37 283.10L262.21 282.56L263.04 282.01L263.86 281.44L264.67 280.84L265.46 280.23L266.23 279.61L266.99 278.96L267.74 278.30L268.47 277.62L269.18 276.92L269.88 276.20L270.56 275.47L271.22 274.73L271.87 273.97L272.50 273.19L273.13 272.41L273.74 271.62L274.34 270.82L274.93 270.02L275.51 269.20L276.08 268.38L276.63 267.55L277.18 266.71L277.71 265.87L278.24 265.02L278.76 264.16L279.27 263.31L279.79 262.45L280.30 261.59L280.81 260.73L281.33 259.87L281.84 259.02L282.37 258.16L282.89 257.31L283.41 256.46L283.94 255.61L284.47 254.76L284.99 253.91L285.52 253.06L286.06 252.22L286.59 251.37L287.13 250.53L287.67 249.69L288.22 248.85L288.77 248.02L289.33 247.19L289.89 246.36L290.45 245.54L291.02 244.71L291.60 243.89L292.17 243.08L292.76 242.27L293.34 241.46L293.94 240.65L294.53 239.85L295.14 239.05L295.75 238.26L296.36 237.47L296.98 236.68L297.60 235.90L298.23 235.12L298.86 234.35L299.50 233.58L300.14 232.81L300.79 232.05L301.44 231.29L302.10 230.54L302.76 229.79L303.43 229.05L304.10 228.31L304.78 227.57L305.46 226.84L306.15 226.12L306.84 225.39L307.54 224.68L308.25 223.97L308.96 223.27L309.68 222.57L310.40 221.89L311.14 221.21L311.88 220.54L312.63 219.88L313.38 219.22L314.15 218.58L314.92 217.94L315.70 217.32L316.49 216.71L317.30 216.12L318.12 215.55L318.95 215.00L319.80 214.47L320.65 213.96L321.52 213.47L322.40 213.00L323.30 212.56L324.20 212.14L325.12 211.76L326.05 211.40L327.00 211.08L327.95 210.80L328.91 210.57L329.88 210.38L330.85 210.27L331.82 210.23L332.79 210.29L333.76 210.43L334.71 210.65L335.65 210.94L336.58 211.28L337.50 211.65L338.42 212.05L339.33 212.46L340.24 212.88L341.13 213.32L342.02 213.78L342.90 214.26L343.77 214.75L344.62 215.26L345.47 215.79L346.30 216.34L347.12 216.91L347.93 217.50L348.72 218.11L349.50 218.74L350.26 219.37L351.02 220.03L351.76 220.70L352.49 221.38L353.21 222.07L353.92 222.78L354.61 223.50L355.29 224.23L355.95 224.98L356.61 225.73L357.25 226.50L357.89 227.26L358.53 228.04L359.15 228.82L359.78 229.60L360.40 230.38L361.02 231.17L361.63 231.95L362.25 232.74L362.86 233.54L363.46 234.34L364.06 235.13L364.66 235.94L365.25 236.74L365.84 237.55L366.42 238.36L367.00 239.18L367.58 239.99L368.16 240.81L368.73 241.63L369.29 242.46L369.86 243.28L370.41 244.11L370.97 244.94L371.52 245.78L372.06 246.62L372.60 247.46L373.14 248.30L373.68 249.14L374.22 249.99L374.75 250.83L375.29 251.68L375.83 252.52L376.37 253.36L376.91 254.20L377.45 255.04L377.99 255.89L378.53 256.73L379.07 257.57L379.61 258.41L380.16 259.25L380.70 260.09L381.24 260.92L381.79 261.76L382.33 262.60L382.87 263.44L383.42 264.28L383.96 265.12L384.51 265.96L385.06 266.79L385.62 267.62L386.19 268.44L386.76 269.26L387.35 270.07L387.95 270.87L388.56 271.66L389.18 272.45L389.81 273.22L390.44 273.99L391.09 274.75L391.75 275.50L392.43 276.24L393.11 276.97L393.80 277.69L394.50 278.40L395.22 279.10L395.95 279.79L396.68 280.46L397.44 281.11L398.20 281.75L398.98 282.38L399.78 282.98L400.59 283.56L401.41 284.13L402.25 284.66L403.11 285.17L403.99 285.63L404.88 286.07L405.80 286.46L406.73 286.81L407.67 287.12L408.63 287.40L409.59 287.63L410.57 287.82L411.55 287.98L412.54 288.11L413.53 288.21L414.52 288.29L415.51 288.35L416.00 288.39" class="k"/>
<path d="M248.50 288.39L249.49 288.26L250.48 288.13L251.47 287.98L252.45 287.80L253.42 287.60L254.39 287.36L255.35 287.09L256.30 286.79L257.23 286.45L258.15 286.07L259.06 285.66L259.96 285.23L260.85 284.77L261.72 284.29L262.59 283.79L263.44 283.27L264.28 282.73L265.11 282.17L265.92 281.60L266.72 281.00L267.50 280.38L268.27 279.74L269.02 279.08L269.75 278.41L270.47 277.71L271.17 277.00L271.85 276.27L272.52 275.53L273.18 274.78L273.83 274.02L274.47 273.25L275.10 272.47L275.72 271.69L276.33 270.90L276.93 270.10L277.52 269.29L278.11 268.48L278.69 267.67L279.26 266.85L279.83 266.02L280.39 265.20L280.95 264.37L281.52 263.55L282.08 262.72L282.64 261.89L283.19 261.06L283.75 260.23L284.30 259.39L284.86 258.56L285.41 257.73L285.96 256.89L286.52 256.06L287.08 255.23L287.64 254.41L288.21 253.59L288.78 252.77L289.37 251.96L289.95 251.15L290.55 250.34L291.15 249.54L291.75 248.75L292.36 247.95L292.97 247.16L293.59 246.38L294.21 245.59L294.83 244.81L295.46 244.03L296.09 243.25L296.72 242.48L297.36 241.71L298.00 240.94L298.65 240.18L299.29 239.42L299.94 238.65L300.59 237.89L301.24 237.14L301.89 236.38L302.54 235.62L303.19 234.85L303.83 234.09L304.47 233.32L305.11 232.55L305.74 231.77L306.37 231.00L307.00 230.22L307.64 229.45L308.28 228.68L308.93 227.92L309.59 227.17L310.26 226.43L310.95 225.71L311.66 225.01L312.38 224.32L313.12 223.64L313.87 222.98L314.63 222.34L315.41 221.71L316.20 221.10L317.00 220.51L317.82 219.95L318.66 219.40L319.51 218.87L320.37 218.37L321.24 217.89L322.13 217.45L323.04 217.03L323.96 216.66L324.89 216.34L325.85 216.06L326.81 215.82L327.79 215.62L328.77 215.47L329.75 215.36L330.73 215.31L331.71 215.32L332.68 215.42L333.64 215.60L334.58 215.87L335.50 216.20L336.40 216.61L337.28 217.06L338.14 217.56L338.98 218.10L339.79 218.66L340.59 219.26L341.37 219.88L342.14 220.52L342.90 221.17L343.65 221.82L344.40 222.48L345.16 223.14L345.91 223.80L346.66 224.46L347.41 225.12L348.16 225.78L348.90 226.45L349.64 227.12L350.38 227.80L351.10 228.49L351.82 229.19L352.52 229.90L353.22 230.62L353.90 231.34L354.57 232.08L355.24 232.83L355.89 233.59L356.54 234.35L357.18 235.12L357.82 235.88L358.46 236.65L359.11 237.41L359.76 238.17L360.41 238.93L361.08 239.68L361.75 240.42L362.42 241.15L363.11 241.88L363.79 242.61L364.48 243.34L365.17 244.06L365.86 244.79L366.54 245.51L367.22 246.25L367.90 246.99L368.56 247.73L369.21 248.49L369.85 249.26L370.48 250.03L371.10 250.82L371.71 251.61L372.31 252.41L372.90 253.21L373.49 254.02L374.08 254.83L374.67 255.64L375.26 256.45L375.85 257.26L376.44 258.06L377.03 258.87L377.63 259.67L378.22 260.48L378.82 261.28L379.42 262.08L380.02 262.87L380.63 263.67L381.24 264.46L381.85 265.25L382.47 266.04L383.09 266.82L383.72 267.60L384.35 268.37L384.99 269.15L385.63 269.91L386.27 270.68L386.93 271.43L387.58 272.19L388.25 272.93L388.92 273.68L389.60 274.41L390.28 275.14L390.97 275.87L391.66 276.59L392.35 277.31L393.05 278.03L393.75 278.74L394.45 279.45L395.16 280.15L395.88 280.85L396.60 281.54L397.35 282.20L398.11 282.84L398.89 283.45L399.70 284.03L400.54 284.57L401.39 285.08L402.27 285.55L403.17 285.97L404.08 286.36L405.01 286.71L405.96 287.01L406.92 287.28L407.89 287.51L408.86 287.70L409.85 287.87L410.83 288.00L411.82 288.11L412.81 288.20L413.79 288.27L414.78 288.33L415.76 288.37L416.00 288.39" class="b"/>
<path d="M248.50 288.39L249.44 288.72L250.36 289.08L251.28 289.46L252.17 289.90L253.03 290.38L253.87 290.90L254.69 291.46L255.50 292.05L256.29 292.66L257.07 293.28L257.85 293.90L258.63 294.53L259.41 295.16L260.19 295.79L260.96 296.42L261.73 297.06L262.50 297.69L263.28 298.33L264.05 298.96L264.83 299.59L265.61 300.21L266.40 300.82L267.20 301.42L268.01 302.01L268.83 302.58L269.65 303.15L270.48 303.71L271.32 304.25L272.16 304.79L273.01 305.32L273.86 305.84L274.73 306.34L275.60 306.83L276.48 307.31L277.36 307.77L278.26 308.22L279.16 308.65L280.06 309.07L280.98 309.48L281.89 309.87L282.82 310.25L283.75 310.62L284.68 310.96L285.63 311.28L286.58 311.57L287.54 311.84L288.51 312.08L289.49 312.29L290.47 312.47L291.45 312.61L292.44 312.71L293.43 312.76L294.42 312.76L295.41 312.71L296.40 312.60L297.38 312.45L298.35 312.26L299.32 312.02L300.27 311.75L301.21 311.43L302.13 311.06L303.03 310.64L303.91 310.18L304.76 309.67L305.59 309.13L306.41 308.56L307.22 307.97L308.01 307.37L308.80 306.75L309.58 306.13L310.35 305.49L311.11 304.84L311.86 304.18L312.60 303.51L313.33 302.83L314.05 302.13L314.75 301.42L315.45 300.71L316.13 299.98L316.81 299.24L317.48 298.50L318.14 297.75L318.78 296.99L319.42 296.21L320.04 295.43L320.65 294.64L321.25 293.84L321.84 293.04L322.41 292.22L322.98 291.39L323.53 290.56L324.08 289.73L324.62 288.89L325.16 288.04L325.69 287.20L326.22 286.35L326.75 285.50L327.28 284.65L327.80 283.80L328.33 282.95L328.85 282.10L329.38 281.24L329.90 280.39L330.42 279.54L330.94 278.68L331.45 277.82L331.95 276.96L332.46 276.09L332.96 275.23L333.46 274.36L333.96 273.50L334.47 272.64L334.99 271.79L335.52 270.94L336.06 270.10L336.61 269.27L337.18 268.45L337.77 267.63L338.36 266.83L338.98 266.04L339.60 265.26L340.23 264.49L340.88 263.73L341.55 262.99L342.23 262.26L342.93 261.55L343.65 260.86L344.40 260.20L345.16 259.57L345.95 258.96L346.76 258.37L347.59 257.82L348.43 257.29L349.30 256.80L350.18 256.35L351.08 255.94L352.01 255.58L352.95 255.27L353.91 255.00L354.87 254.77L355.85 254.58L356.83 254.42L357.82 254.29L358.81 254.19L359.80 254.14L360.80 254.14L361.79 254.18L362.77 254.28L363.75 254.43L364.73 254.62L365.69 254.86L366.65 255.14L367.60 255.45L368.53 255.79L369.45 256.17L370.35 256.60L371.22 257.06L372.08 257.56L372.91 258.10L373.73 258.67L374.54 259.26L375.33 259.86L376.13 260.47L376.92 261.08L377.70 261.70L378.48 262.33L379.25 262.97L380.00 263.62L380.75 264.29L381.48 264.97L382.19 265.66L382.89 266.38L383.58 267.10L384.25 267.84L384.92 268.59L385.57 269.34L386.23 270.10L386.88 270.85L387.53 271.61L388.18 272.38L388.82 273.14L389.47 273.90L390.12 274.66L390.77 275.42L391.43 276.17L392.10 276.91L392.78 277.64L393.48 278.36L394.19 279.06L394.92 279.74L395.66 280.41L396.42 281.06L397.19 281.69L397.98 282.30L398.78 282.90L399.60 283.47L400.43 284.02L401.28 284.55L402.14 285.05L403.02 285.52L403.91 285.95L404.82 286.35L405.75 286.71L406.69 287.03L407.65 287.31L408.61 287.56L409.58 287.76L410.56 287.93L411.55 288.07L412.54 288.17L413.53 288.25L414.52 288.31L415.51 288.36L416.00 288.39" class="r"/>
</g>
<rect x="248.5" y="194.6" width="167.5" height="131.3" fill="none" stroke="#8a8a8a" stroke-width="1"/>
<g class="tl"><text x="248.5" y="334.2" text-anchor="middle">0</text><text x="282" y="334.2" text-anchor="middle">200</text><text x="315.5" y="334.2" text-anchor="middle">400</text><text x="349" y="334.2" text-anchor="middle">600</text><text x="382.5" y="334.2" text-anchor="middle">800</text><text x="416" y="334.2" text-anchor="middle">1000</text><text x="246.3" y="328.6" text-anchor="end">-4</text><text x="246.3" y="309.84" text-anchor="end">-2</text><text x="246.3" y="291.09" text-anchor="end">0</text><text x="246.3" y="272.33" text-anchor="end">2</text><text x="246.3" y="253.57" text-anchor="end">4</text><text x="246.3" y="234.81" text-anchor="end">6</text><text x="246.3" y="216.06" text-anchor="end">8</text><text x="246.3" y="197.3" text-anchor="end">10</text></g>
<path d="M171.6 382.7V513.4M205.2 382.7V513.4M238.8 382.7V513.4M272.4 382.7V513.4M138 491.62H306M138 469.83H306M138 448.05H306M138 426.27H306M138 404.48H306" stroke="#eaeaea" stroke-width="0.7" fill="none"/>
<path d="M171.6 513.4v-1.6M171.6 382.7v1.6M205.2 513.4v-1.6M205.2 382.7v1.6M238.8 513.4v-1.6M238.8 382.7v1.6M272.4 513.4v-1.6M272.4 382.7v1.6M138 491.62h1.6M306 491.62h-1.6M138 469.83h1.6M306 469.83h-1.6M138 448.05h1.6M306 448.05h-1.6M138 426.27h1.6M306 426.27h-1.6M138 404.48h1.6M306 404.48h-1.6" stroke="#555" stroke-width="0.7" fill="none"/>
<clipPath id="ce"><rect x="138" y="380.7" width="168" height="134.7"/></clipPath>
<g clip-path="url(#ce)">
<path d="M138.00 491.62L138.98 491.46L139.97 491.28L140.94 491.09L141.91 490.85L142.87 490.58L143.81 490.27L144.74 489.92L145.65 489.52L146.54 489.09L147.42 488.61L148.28 488.11L149.13 487.59L149.96 487.04L150.79 486.48L151.60 485.89L152.39 485.29L153.17 484.67L153.94 484.03L154.70 483.38L155.44 482.71L156.17 482.02L156.88 481.32L157.57 480.61L158.26 479.88L158.92 479.14L159.58 478.38L160.22 477.61L160.85 476.84L161.46 476.05L162.07 475.26L162.66 474.45L163.25 473.64L163.82 472.82L164.39 472.00L164.95 471.17L165.50 470.34L166.04 469.50L166.58 468.66L167.11 467.81L167.63 466.96L168.15 466.10L168.66 465.24L169.17 464.38L169.67 463.52L170.18 462.65L170.68 461.79L171.19 460.93L171.70 460.07L172.21 459.21L172.73 458.35L173.25 457.50L173.77 456.65L174.29 455.79L174.81 454.94L175.33 454.08L175.85 453.23L176.36 452.37L176.86 451.50L177.36 450.64L177.85 449.77L178.34 448.89L178.82 448.02L179.29 447.14L179.77 446.26L180.24 445.37L180.71 444.49L181.18 443.61L181.66 442.73L182.13 441.85L182.61 440.97L183.08 440.09L183.56 439.21L184.04 438.34L184.53 437.46L185.01 436.58L185.49 435.71L185.98 434.84L186.47 433.96L186.95 433.09L187.44 432.22L187.93 431.35L188.42 430.47L188.92 429.60L189.41 428.73L189.90 427.86L190.40 427.00L190.91 426.14L191.42 425.28L191.95 424.43L192.48 423.58L193.02 422.74L193.58 421.91L194.15 421.09L194.73 420.28L195.32 419.47L195.91 418.67L196.52 417.87L197.13 417.08L197.76 416.30L198.39 415.53L199.02 414.75L199.67 413.99L200.32 413.24L200.99 412.49L201.67 411.76L202.37 411.05L203.09 410.36L203.82 409.68L204.58 409.04L205.36 408.41L206.15 407.81L206.97 407.24L207.80 406.69L208.65 406.18L209.52 405.69L210.41 405.24L211.31 404.82L212.23 404.44L213.16 404.10L214.11 403.81L215.07 403.55L216.04 403.32L217.02 403.13L218.00 402.97L218.99 402.84L219.98 402.74L220.98 402.68L221.97 402.66L222.97 402.68L223.96 402.74L224.95 402.83L225.94 402.96L226.92 403.12L227.90 403.31L228.87 403.53L229.83 403.79L230.78 404.08L231.72 404.42L232.64 404.79L233.54 405.21L234.43 405.66L235.30 406.15L236.15 406.66L236.99 407.21L237.80 407.78L238.60 408.38L239.38 409.00L240.14 409.65L240.87 410.32L241.59 411.01L242.29 411.72L242.97 412.45L243.64 413.19L244.30 413.95L244.94 414.71L245.58 415.48L246.21 416.26L246.83 417.04L247.44 417.83L248.05 418.62L248.65 419.42L249.24 420.23L249.82 421.05L250.39 421.87L250.94 422.70L251.49 423.53L252.02 424.38L252.55 425.23L253.06 426.09L253.57 426.95L254.07 427.82L254.56 428.68L255.06 429.55L255.55 430.43L256.04 431.30L256.53 432.17L257.02 433.04L257.51 433.91L257.99 434.79L258.48 435.66L258.96 436.54L259.45 437.41L259.93 438.29L260.41 439.16L260.89 440.04L261.37 440.92L261.84 441.80L262.32 442.68L262.79 443.56L263.26 444.44L263.73 445.32L264.21 446.21L264.68 447.09L265.15 447.97L265.63 448.84L266.12 449.72L266.61 450.59L267.11 451.45L267.61 452.32L268.12 453.18L268.64 454.04L269.16 454.89L269.68 455.74L270.20 456.60L270.72 457.45L271.24 458.31L271.76 459.16L272.27 460.02L272.78 460.88L273.29 461.74L273.79 462.60L274.30 463.47L274.80 464.33L275.31 465.19L275.82 466.05L276.34 466.91L276.86 467.76L277.39 468.61L277.92 469.45L278.47 470.29L279.02 471.12L279.58 471.95L280.14 472.78L280.72 473.60L281.30 474.41L281.90 475.21L282.50 476.01L283.12 476.79L283.75 477.57L284.39 478.34L285.04 479.09L285.71 479.84L286.39 480.57L287.08 481.28L287.79 481.99L288.52 482.67L289.26 483.34L290.02 484.00L290.78 484.63L291.56 485.26L292.36 485.86L293.17 486.45L293.99 487.01L294.82 487.56L295.67 488.09L296.53 488.59L297.41 489.06L298.30 489.50L299.21 489.90L300.14 490.25L301.07 490.57L302.02 490.84L302.97 491.07L303.91 491.26L304.84 491.43L305.77 491.58L306.00 491.62" class="k"/>
<path d="M138.00 491.62L138.93 492.00L139.85 492.37L140.78 492.74L141.71 493.10L142.65 493.45L143.59 493.78L144.54 494.10L145.49 494.41L146.45 494.69L147.41 494.95L148.38 495.17L149.36 495.37L150.34 495.53L151.33 495.67L152.32 495.79L153.31 495.88L154.31 495.95L155.31 496.00L156.31 496.04L157.30 496.06L158.30 496.07L159.30 496.07L160.30 496.06L161.30 496.03L162.29 495.97L163.27 495.87L164.25 495.72L165.20 495.50L166.15 495.21L167.07 494.86L167.97 494.46L168.86 494.01L169.72 493.52L170.55 492.98L171.36 492.41L172.15 491.80L172.90 491.15L173.63 490.48L174.35 489.78L175.05 489.07L175.75 488.36L176.44 487.64L177.14 486.92L177.83 486.20L178.53 485.48L179.22 484.76L179.91 484.04L180.60 483.31L181.28 482.58L181.95 481.84L182.62 481.09L183.27 480.34L183.91 479.57L184.54 478.79L185.16 478.01L185.76 477.21L186.36 476.41L186.94 475.60L187.52 474.78L188.09 473.96L188.65 473.13L189.21 472.30L189.76 471.47L190.30 470.63L190.84 469.79L191.37 468.94L191.90 468.09L192.42 467.23L192.93 466.38L193.44 465.51L193.94 464.65L194.45 463.79L194.96 462.93L195.48 462.08L196.01 461.23L196.55 460.39L197.10 459.55L197.66 458.73L198.24 457.92L198.84 457.11L199.44 456.32L200.06 455.54L200.69 454.76L201.33 453.99L201.98 453.23L202.64 452.48L203.31 451.74L203.98 450.99L204.66 450.26L205.34 449.53L206.02 448.79L206.70 448.07L207.39 447.34L208.08 446.61L208.77 445.89L209.48 445.19L210.20 444.50L210.94 443.83L211.70 443.20L212.49 442.59L213.30 442.02L214.14 441.49L215.00 440.99L215.88 440.53L216.78 440.10L217.69 439.71L218.62 439.38L219.56 439.11L220.52 438.92L221.49 438.82L222.45 438.82L223.42 438.91L224.38 439.10L225.32 439.36L226.25 439.69L227.16 440.07L228.06 440.50L228.94 440.96L229.80 441.46L230.64 441.99L231.46 442.56L232.25 443.16L233.02 443.79L233.76 444.46L234.48 445.14L235.18 445.85L235.88 446.57L236.57 447.29L237.25 448.02L237.94 448.75L238.62 449.48L239.30 450.21L239.98 450.95L240.65 451.69L241.32 452.43L241.97 453.19L242.62 453.95L243.27 454.71L243.90 455.49L244.52 456.27L245.13 457.06L245.72 457.87L246.30 458.68L246.87 459.50L247.42 460.33L247.96 461.18L248.49 462.02L249.00 462.88L249.52 463.74L250.03 464.60L250.53 465.46L251.04 466.32L251.55 467.18L252.07 468.04L252.59 468.89L253.12 469.74L253.66 470.58L254.21 471.42L254.76 472.25L255.31 473.08L255.88 473.91L256.44 474.73L257.02 475.55L257.60 476.36L258.20 477.16L258.80 477.96L259.42 478.74L260.05 479.52L260.69 480.29L261.34 481.05L262.00 481.79L262.68 482.53L263.36 483.27L264.04 483.99L264.73 484.72L265.43 485.44L266.12 486.15L266.82 486.87L267.51 487.59L268.21 488.31L268.90 489.03L269.61 489.74L270.32 490.43L271.05 491.11L271.81 491.76L272.59 492.37L273.40 492.95L274.23 493.48L275.09 493.98L275.97 494.43L276.87 494.84L277.80 495.19L278.74 495.48L279.69 495.70L280.67 495.86L281.65 495.97L282.64 496.03L283.64 496.06L284.63 496.07L285.63 496.07L286.63 496.06L287.63 496.04L288.63 496.01L289.63 495.96L290.62 495.89L291.62 495.79L292.61 495.68L293.60 495.54L294.58 495.38L295.56 495.19L296.53 494.96L297.49 494.71L298.45 494.42L299.40 494.12L300.35 493.80L301.28 493.47L302.21 493.13L303.13 492.78L304.03 492.42L304.91 492.06L305.78 491.71L306.00 491.62" class="b"/>
<path d="M138.00 491.62L138.95 491.92L139.89 492.24L140.82 492.59L141.74 492.97L142.64 493.39L143.52 493.85L144.38 494.35L145.23 494.88L146.06 495.42L146.89 495.98L147.72 496.54L148.55 497.10L149.38 497.66L150.21 498.21L151.05 498.75L151.89 499.29L152.74 499.82L153.59 500.34L154.46 500.85L155.33 501.34L156.21 501.81L157.09 502.27L157.99 502.71L158.90 503.13L159.81 503.53L160.73 503.92L161.66 504.29L162.59 504.65L163.53 504.99L164.48 505.31L165.42 505.62L166.38 505.89L167.34 506.13L168.31 506.32L169.29 506.44L170.27 506.50L171.26 506.49L172.24 506.41L173.22 506.27L174.20 506.09L175.16 505.86L176.13 505.60L177.08 505.31L178.02 504.99L178.95 504.63L179.87 504.24L180.77 503.81L181.65 503.36L182.53 502.88L183.39 502.37L184.23 501.84L185.06 501.28L185.87 500.71L186.67 500.10L187.45 499.48L188.21 498.84L188.96 498.18L189.70 497.51L190.42 496.82L191.14 496.12L191.84 495.41L192.52 494.68L193.19 493.94L193.84 493.18L194.47 492.41L195.09 491.62L195.68 490.82L196.26 490.01L196.82 489.18L197.38 488.35L197.93 487.52L198.49 486.69L199.06 485.87L199.65 485.07L200.27 484.29L200.91 483.53L201.58 482.80L202.28 482.09L203.00 481.40L203.74 480.73L204.50 480.08L205.27 479.44L206.06 478.83L206.86 478.24L207.68 477.66L208.51 477.11L209.35 476.58L210.21 476.06L211.07 475.56L211.94 475.07L212.82 474.59L213.70 474.12L214.59 473.67L215.49 473.23L216.39 472.81L217.31 472.43L218.24 472.10L219.19 471.82L220.15 471.62L221.11 471.49L222.09 471.46L223.06 471.51L224.02 471.65L224.98 471.87L225.92 472.15L226.85 472.50L227.77 472.88L228.67 473.30L229.57 473.75L230.45 474.20L231.34 474.67L232.21 475.15L233.08 475.64L233.94 476.15L234.80 476.67L235.64 477.21L236.47 477.76L237.28 478.34L238.08 478.94L238.87 479.55L239.64 480.19L240.39 480.84L241.13 481.52L241.84 482.21L242.54 482.92L243.20 483.66L243.84 484.43L244.45 485.21L245.04 486.02L245.61 486.84L246.17 487.67L246.72 488.50L247.28 489.33L247.84 490.15L248.42 490.96L249.02 491.76L249.64 492.55L250.27 493.32L250.93 494.07L251.60 494.81L252.29 495.53L252.99 496.25L253.70 496.94L254.43 497.63L255.17 498.30L255.92 498.95L256.69 499.59L257.47 500.21L258.27 500.81L259.09 501.38L259.92 501.94L260.77 502.46L261.63 502.97L262.50 503.44L263.39 503.89L264.30 504.31L265.21 504.69L266.15 505.05L267.09 505.36L268.04 505.65L269.01 505.91L269.98 506.13L270.95 506.30L271.93 506.43L272.92 506.50L273.90 506.50L274.88 506.43L275.86 506.29L276.83 506.09L277.79 505.85L278.74 505.56L279.69 505.26L280.64 504.93L281.57 504.59L282.51 504.23L283.43 503.85L284.35 503.46L285.26 503.06L286.17 502.63L287.06 502.19L287.95 501.73L288.83 501.25L289.70 500.76L290.56 500.25L291.41 499.73L292.26 499.20L293.10 498.66L293.93 498.11L294.77 497.56L295.60 497.00L296.43 496.44L297.25 495.88L298.08 495.33L298.92 494.78L299.77 494.26L300.63 493.77L301.51 493.32L302.40 492.91L303.30 492.54L304.20 492.21L305.10 491.90L306.00 491.62L306.00 491.62" class="r"/>
</g>
<rect x="138" y="382.7" width="168" height="130.7" fill="none" stroke="#8a8a8a" stroke-width="1"/>
<g class="tl"><text x="138" y="521.9" text-anchor="middle">0</text><text x="171.6" y="521.9" text-anchor="middle">200</text><text x="205.2" y="521.9" text-anchor="middle">400</text><text x="238.8" y="521.9" text-anchor="middle">600</text><text x="272.4" y="521.9" text-anchor="middle">800</text><text x="306" y="521.9" text-anchor="middle">1000</text><text x="135.8" y="516.1" text-anchor="end">-2</text><text x="135.8" y="494.32" text-anchor="end">0</text><text x="135.8" y="472.53" text-anchor="end">2</text><text x="135.8" y="450.75" text-anchor="end">4</text><text x="135.8" y="428.97" text-anchor="end">6</text><text x="135.8" y="407.18" text-anchor="end">8</text><text x="135.8" y="385.4" text-anchor="end">10</text></g>
<rect class="leg" x="144.2" y="98.0" width="47.6" height="31.5"/>
<path class="k" d="M145.8 104H160.6"/>
<text class="lab lg" x="162.5" y="105.9" font-size="6.4" textLength="27.2" lengthAdjust="spacingAndGlyphs">b<tspan font-size="4.80" dy="2.8">0</tspan><tspan dy="-2.8">=2.5 μm</tspan></text>
<path class="b" d="M145.8 114.3H160.6"/>
<text class="lab lg" x="162.5" y="116.2" font-size="6.4" textLength="27.2" lengthAdjust="spacingAndGlyphs">b<tspan font-size="4.80" dy="2.8">0</tspan><tspan dy="-2.8">=3.5 μm</tspan></text>
<path class="r" d="M145.8 123.7H160.6"/>
<text class="lab lg" x="162.5" y="125.6" font-size="6.4" textLength="27.2" lengthAdjust="spacingAndGlyphs">b<tspan font-size="4.80" dy="2.8">0</tspan><tspan dy="-2.8">=4.5 μm</tspan></text>
<rect class="leg" x="365.4" y="91.8" width="47.5" height="41.3"/>
<path class="k" d="M366.9 97.5H382.3"/>
<text class="lab lg" x="383.6" y="99.4" font-size="6.4" textLength="26.9" lengthAdjust="spacingAndGlyphs">b<tspan font-size="4.80" dy="2.8">0</tspan><tspan dy="-2.8">=5.5 μm</tspan></text>
<path class="b" d="M366.9 107.6H382.3"/>
<text class="lab lg" x="383.6" y="109.5" font-size="6.4" textLength="26.9" lengthAdjust="spacingAndGlyphs">b<tspan font-size="4.80" dy="2.8">0</tspan><tspan dy="-2.8">=6.5 μm</tspan></text>
<path class="r" d="M366.9 117.6H382.3"/>
<text class="lab lg" x="383.6" y="119.5" font-size="6.4" textLength="26.9" lengthAdjust="spacingAndGlyphs">b<tspan font-size="4.80" dy="2.8">0</tspan><tspan dy="-2.8">=7.5 μm</tspan></text>
<g class="mf"><circle cx="374.6" cy="127" r="1.85"/></g>
<text class="lab lg" x="383.6" y="128.9" font-size="6.4" textLength="26.9" lengthAdjust="spacingAndGlyphs">b<tspan font-size="4.80" dy="2.8">0</tspan><tspan dy="-2.8">=8.5 μm</tspan></text>
<rect class="leg" x="31.1" y="198.1" width="43.5" height="61"/>
<path class="k" d="M33.1 203.8H47.8"/>
<text class="lab lg" x="50" y="205.7" font-size="6.4" textLength="20.7" lengthAdjust="spacingAndGlyphs">b<tspan font-size="4.80" dy="2.8">0</tspan><tspan dy="-2.8">=3 μm</tspan></text>
<path class="b" d="M33.1 213.7H47.8"/>
<text class="lab lg" x="50" y="215.6" font-size="6.4" textLength="20.7" lengthAdjust="spacingAndGlyphs">b<tspan font-size="4.80" dy="2.8">0</tspan><tspan dy="-2.8">=4 μm</tspan></text>
<path class="r" d="M33.1 223.9H47.8"/>
<text class="lab lg" x="50" y="225.8" font-size="6.4" textLength="20.7" lengthAdjust="spacingAndGlyphs">b<tspan font-size="4.80" dy="2.8">0</tspan><tspan dy="-2.8">=5 μm</tspan></text>
<path class="g" d="M33.1 233.8H47.8"/>
<text class="lab lg" x="50" y="235.7" font-size="6.4" textLength="20.7" lengthAdjust="spacingAndGlyphs">b<tspan font-size="4.80" dy="2.8">0</tspan><tspan dy="-2.8">=6 μm</tspan></text>
<g class="mf"><circle cx="40.45" cy="243.8" r="1.85"/></g>
<text class="lab lg" x="50" y="245.7" font-size="6.4" textLength="20.7" lengthAdjust="spacingAndGlyphs">b<tspan font-size="4.80" dy="2.8">0</tspan><tspan dy="-2.8">=7 μm</tspan></text>
<g class="mo"><circle cx="40.45" cy="253.5" r="1.4"/></g>
<text class="lab lg" x="50" y="255.4" font-size="6.4" textLength="20.7" lengthAdjust="spacingAndGlyphs">b<tspan font-size="4.80" dy="2.8">0</tspan><tspan dy="-2.8">=8 μm</tspan></text>
<text class="lab" x="94" y="150.7" font-size="7.6" textLength="33.8" lengthAdjust="spacingAndGlyphs">V<tspan font-size="7.22" dy="4.6">FF</tspan><tspan dy="-4.6"> (Volt)</tspan></text>
<text class="lab" transform="translate(10.4 70.7) rotate(-90)" font-size="7.6" text-anchor="middle" textLength="33.6" lengthAdjust="spacingAndGlyphs">w<tspan font-size="6.46" dy="4.2">max</tspan><tspan dy="-4.2"> (μm)</tspan></text>
<text class="lab" x="314" y="150.5" font-size="7.6" textLength="33.8" lengthAdjust="spacingAndGlyphs">V<tspan font-size="7.22" dy="4.6">FF</tspan><tspan dy="-4.6"> (Volt)</tspan></text>
<text class="lab" transform="translate(235.3 70.5) rotate(-90)" font-size="7.6" text-anchor="middle" textLength="33.6" lengthAdjust="spacingAndGlyphs">w<tspan font-size="6.46" dy="4.2">max</tspan><tspan dy="-4.2"> (μm)</tspan></text>
<text class="lab" x="94.6" y="338.7" font-size="7.6" textLength="33.8" lengthAdjust="spacingAndGlyphs">V<tspan font-size="7.22" dy="4.6">FF</tspan><tspan dy="-4.6"> (Volt)</tspan></text>
<text class="lab" transform="translate(16 258.5) rotate(-90)" font-size="7.6" text-anchor="middle" textLength="33.2" lengthAdjust="spacingAndGlyphs">w<tspan font-size="6.46" dy="4.2">max</tspan><tspan dy="-4.2"> (μm)</tspan></text>
<text class="lab sp" transform="translate(236.3 263.9) rotate(-90)" font-size="7.8" text-anchor="middle" textLength="42.8" lengthAdjust="spacingAndGlyphs">Static Profile</text>
<text class="lab sp" x="320.3" y="342.9" font-size="7.6" textLength="22.7" lengthAdjust="spacingAndGlyphs">x (μm)</text>
<text class="lab sp" transform="translate(127 447.4) rotate(-90)" font-size="7.8" text-anchor="middle" textLength="42.1" lengthAdjust="spacingAndGlyphs">Static Profile</text>
<text class="lab sp" x="209.9" y="530.4" font-size="7.6" textLength="23.1" lengthAdjust="spacingAndGlyphs">x (μm)</text>
<text class="lab ann" x="368.2" y="208.7" font-size="7.3" textLength="40.6" lengthAdjust="spacingAndGlyphs">V<tspan font-size="6.57" dy="3.8">FF</tspan><tspan dy="-3.8">=100 Volt</tspan></text>
<path d="M365 213L360.26 218.99" stroke="#333" stroke-width="0.75" fill="none"/>
<path d="M357.4 222.6L358.69 217.75L359.4 220.08L361.82 220.23Z" fill="#1e1e1e"/>
<text class="lab ann" x="306.9" y="238.3" font-size="7.3" textLength="40.6" lengthAdjust="spacingAndGlyphs">V<tspan font-size="6.57" dy="3.8">FF</tspan><tspan dy="-3.8">=200 Volt</tspan></text>
<path d="M326.3 232.5L326.3 221.2" stroke="#333" stroke-width="0.75" fill="none"/>
<path d="M326.3 216.6L328.3 221.2L326.3 219.82L324.3 221.2Z" fill="#1e1e1e"/>
<text class="lab ann" x="345.3" y="290.5" font-size="7.3" textLength="40.6" lengthAdjust="spacingAndGlyphs">V<tspan font-size="6.57" dy="3.8">FF</tspan><tspan dy="-3.8">=300 Volt</tspan></text>
<path d="M344 284.5L339.19 278.89" stroke="#333" stroke-width="0.75" fill="none"/>
<path d="M336.2 275.4L340.71 277.59L338.3 277.84L337.68 280.19Z" fill="#1e1e1e"/>
<text class="lab ann" x="257.5" y="402.4" font-size="7.3" textLength="40.6" lengthAdjust="spacingAndGlyphs">V<tspan font-size="6.57" dy="3.8">FF</tspan><tspan dy="-3.8">=100 Volt</tspan></text>
<path d="M255.2 407.6L249.6 414.11" stroke="#333" stroke-width="0.75" fill="none"/>
<path d="M246.6 417.6L248.08 412.81L248.7 415.16L251.12 415.42Z" fill="#1e1e1e"/>
<text class="lab ann" x="201.8" y="423.1" font-size="7.3" textLength="40.6" lengthAdjust="spacingAndGlyphs">V<tspan font-size="6.57" dy="3.8">FF</tspan><tspan dy="-3.8">=200 Volt</tspan></text>
<path d="M220.6 426.8L220.03 432.82" stroke="#333" stroke-width="0.75" fill="none"/>
<path d="M219.6 437.4L218.04 432.63L219.9 434.19L222.02 433.01Z" fill="#1e1e1e"/>
<text class="lab ann" x="196.4" y="499" font-size="7.3" textLength="40.6" lengthAdjust="spacingAndGlyphs">V<tspan font-size="6.57" dy="3.8">FF</tspan><tspan dy="-3.8">=300 Volt</tspan></text>
<path d="M215.4 493.3L210.19 483.65" stroke="#333" stroke-width="0.75" fill="none"/>
<path d="M208 479.6L211.95 482.7L209.53 482.43L208.43 484.6Z" fill="#1e1e1e"/>
<text class="cap" x="48.3" y="168.8" font-size="8.4" textLength="117.6" lengthAdjust="spacingAndGlyphs"><tspan font-weight="bold">(a)</tspan> Quarter electrode <tspan font-style="italic">L</tspan><tspan font-style="italic" font-size="5.6" dy="1.4">e</tspan><tspan dy="-1.4"> </tspan><tspan font-size="10.5" dy="0.3">=</tspan><tspan dy="-0.3"> </tspan>0.25<tspan font-style="italic">L</tspan></text>
<text class="cap" x="269" y="168.5" font-size="8.4" textLength="116.9" lengthAdjust="spacingAndGlyphs"><tspan font-weight="bold">(b)</tspan> Quarter electrode <tspan font-style="italic">L</tspan><tspan font-style="italic" font-size="5.6" dy="1.4">e</tspan><tspan dy="-1.4"> </tspan><tspan font-size="10.5" dy="0.3">=</tspan><tspan dy="-0.3"> </tspan>0.25<tspan font-style="italic">L</tspan></text>
<text class="cap" x="58.3" y="356.6" font-size="8.4" textLength="98.9" lengthAdjust="spacingAndGlyphs"><tspan font-weight="bold">(c)</tspan> Half electrode <tspan font-style="italic">L</tspan><tspan font-style="italic" font-size="5.6" dy="1.4">e</tspan><tspan dy="-1.4"> </tspan><tspan font-size="10.5" dy="0.3">=</tspan><tspan dy="-0.3"> </tspan>0.5<tspan font-style="italic">L</tspan></text>
<text class="cap" x="272.1" y="356.6" font-size="8.4" textLength="112.3" lengthAdjust="spacingAndGlyphs"><tspan font-weight="bold">(d)</tspan> <tspan font-style="italic">b</tspan><tspan font-size="5.6" dy="1.4">0</tspan><tspan dy="-1.4"> </tspan><tspan font-size="10.5" dy="0.3">=</tspan><tspan dy="-0.3"> 8.5 μm and </tspan><tspan font-style="italic">L</tspan><tspan font-style="italic" font-size="5.6" dy="1.4">e</tspan><tspan dy="-1.4"> </tspan><tspan font-size="10.5" dy="0.3">=</tspan><tspan dy="-0.3"> </tspan>0.25<tspan font-style="italic">L</tspan></text>
<text class="cap" x="164.3" y="545.4" font-size="8.4" textLength="107.2" lengthAdjust="spacingAndGlyphs"><tspan font-weight="bold">(e)</tspan> <tspan font-style="italic">b</tspan><tspan font-size="5.6" dy="1.4">0</tspan><tspan dy="-1.4"> </tspan><tspan font-size="10.5" dy="0.3">=</tspan><tspan dy="-0.3"> 8.5 μm and </tspan><tspan font-style="italic">L</tspan><tspan font-style="italic" font-size="5.6" dy="1.4">e</tspan><tspan dy="-1.4"> </tspan><tspan font-size="10.5" dy="0.3">=</tspan><tspan dy="-0.3"> </tspan>0.5<tspan font-style="italic">L</tspan></text>
</svg>
</body></html>
